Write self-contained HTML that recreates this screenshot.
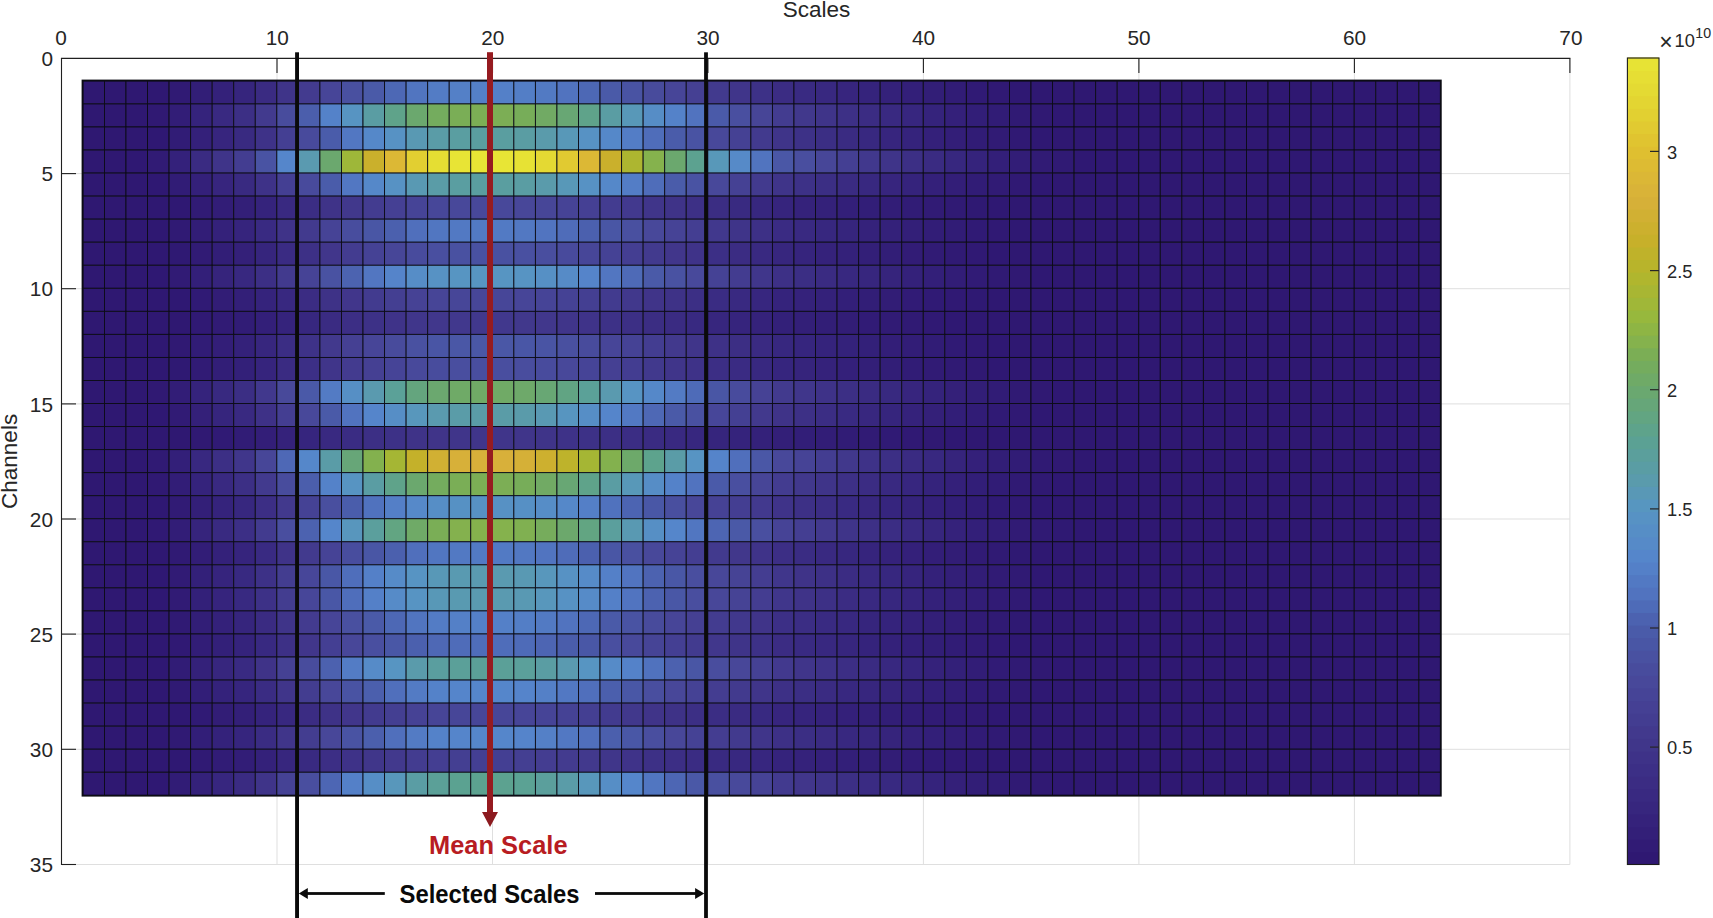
<!DOCTYPE html><html><head><meta charset="utf-8"><title>Scales vs Channels</title>
<style>html,body{margin:0;padding:0;background:#fff}svg{display:block}text{font-family:"Liberation Sans",Arial,Helvetica,sans-serif;fill:#262626}</style></head><body>
<svg width="1713" height="918" viewBox="0 0 1713 918">
<rect width="1713" height="918" fill="#fff"/>
<g stroke="#dfdfdf" stroke-width="1" fill="none">
<line x1="277.0" y1="58.4" x2="277.0" y2="864.5"/>
<line x1="492.5" y1="58.4" x2="492.5" y2="864.5"/>
<line x1="707.9" y1="58.4" x2="707.9" y2="864.5"/>
<line x1="923.4" y1="58.4" x2="923.4" y2="864.5"/>
<line x1="1138.9" y1="58.4" x2="1138.9" y2="864.5"/>
<line x1="1354.4" y1="58.4" x2="1354.4" y2="864.5"/>
<line x1="1569.9" y1="58.4" x2="1569.9" y2="864.5"/>
<line x1="61.5" y1="173.6" x2="1569.9" y2="173.6"/>
<line x1="61.5" y1="288.7" x2="1569.9" y2="288.7"/>
<line x1="61.5" y1="403.9" x2="1569.9" y2="403.9"/>
<line x1="61.5" y1="519.0" x2="1569.9" y2="519.0"/>
<line x1="61.5" y1="634.1" x2="1569.9" y2="634.1"/>
<line x1="61.5" y1="749.3" x2="1569.9" y2="749.3"/>
<line x1="61.5" y1="864.5" x2="1569.9" y2="864.5"/>
</g>
<g stroke="#0c0c16" stroke-width="0.9">
<rect x="82.90" y="80.90" width="21.55" height="23.05" fill="#2f1872"/>
<rect x="104.45" y="80.90" width="21.55" height="23.05" fill="#2f1872"/>
<rect x="125.99" y="80.90" width="21.55" height="23.05" fill="#2f1872"/>
<rect x="147.54" y="80.90" width="21.55" height="23.05" fill="#2f1872"/>
<rect x="169.09" y="80.90" width="21.55" height="23.05" fill="#301a74"/>
<rect x="190.64" y="80.90" width="21.55" height="23.05" fill="#321e77"/>
<rect x="212.19" y="80.90" width="21.55" height="23.05" fill="#34217a"/>
<rect x="233.73" y="80.90" width="21.55" height="23.05" fill="#36257d"/>
<rect x="255.28" y="80.90" width="21.55" height="23.05" fill="#3a2b82"/>
<rect x="276.83" y="80.90" width="21.55" height="23.05" fill="#3f3489"/>
<rect x="298.38" y="80.90" width="21.55" height="23.05" fill="#433b8f"/>
<rect x="319.93" y="80.90" width="21.55" height="23.05" fill="#474598"/>
<rect x="341.47" y="80.90" width="21.55" height="23.05" fill="#4950a0"/>
<rect x="363.02" y="80.90" width="21.55" height="23.05" fill="#4a5aa8"/>
<rect x="384.57" y="80.90" width="21.55" height="23.05" fill="#4d68b5"/>
<rect x="406.12" y="80.90" width="21.55" height="23.05" fill="#5175c0"/>
<rect x="427.67" y="80.90" width="21.55" height="23.05" fill="#537cc5"/>
<rect x="449.21" y="80.90" width="21.55" height="23.05" fill="#5480c7"/>
<rect x="470.76" y="80.90" width="21.55" height="23.05" fill="#5480c8"/>
<rect x="492.31" y="80.90" width="21.55" height="23.05" fill="#5480c8"/>
<rect x="513.86" y="80.90" width="21.55" height="23.05" fill="#537ec6"/>
<rect x="535.41" y="80.90" width="21.55" height="23.05" fill="#527ac3"/>
<rect x="556.95" y="80.90" width="21.55" height="23.05" fill="#5173bf"/>
<rect x="578.50" y="80.90" width="21.55" height="23.05" fill="#4d68b5"/>
<rect x="600.05" y="80.90" width="21.55" height="23.05" fill="#4a5aa8"/>
<rect x="621.60" y="80.90" width="21.55" height="23.05" fill="#4953a3"/>
<rect x="643.15" y="80.90" width="21.55" height="23.05" fill="#484b9c"/>
<rect x="664.69" y="80.90" width="21.55" height="23.05" fill="#474598"/>
<rect x="686.24" y="80.90" width="21.55" height="23.05" fill="#454093"/>
<rect x="707.79" y="80.90" width="21.55" height="23.05" fill="#423a8e"/>
<rect x="729.34" y="80.90" width="21.55" height="23.05" fill="#40358a"/>
<rect x="750.89" y="80.90" width="21.55" height="23.05" fill="#3d3187"/>
<rect x="772.43" y="80.90" width="21.55" height="23.05" fill="#3b2c83"/>
<rect x="793.98" y="80.90" width="21.55" height="23.05" fill="#392a82"/>
<rect x="815.53" y="80.90" width="21.55" height="23.05" fill="#382880"/>
<rect x="837.08" y="80.90" width="21.55" height="23.05" fill="#37257e"/>
<rect x="858.63" y="80.90" width="21.55" height="23.05" fill="#35237c"/>
<rect x="880.17" y="80.90" width="21.55" height="23.05" fill="#34217a"/>
<rect x="901.72" y="80.90" width="21.55" height="23.05" fill="#331f79"/>
<rect x="923.27" y="80.90" width="21.55" height="23.05" fill="#321e77"/>
<rect x="944.82" y="80.90" width="21.55" height="23.05" fill="#311c76"/>
<rect x="966.37" y="80.90" width="21.55" height="23.05" fill="#301a75"/>
<rect x="987.91" y="80.90" width="21.55" height="23.05" fill="#301974"/>
<rect x="1009.46" y="80.90" width="21.55" height="23.05" fill="#2f1873"/>
<rect x="1031.01" y="80.90" width="21.55" height="23.05" fill="#2f1872"/>
<rect x="1052.56" y="80.90" width="21.55" height="23.05" fill="#2f1872"/>
<rect x="1074.11" y="80.90" width="21.55" height="23.05" fill="#2f1872"/>
<rect x="1095.65" y="80.90" width="21.55" height="23.05" fill="#2f1872"/>
<rect x="1117.20" y="80.90" width="21.55" height="23.05" fill="#2f1872"/>
<rect x="1138.75" y="80.90" width="21.55" height="23.05" fill="#2f1872"/>
<rect x="1160.30" y="80.90" width="21.55" height="23.05" fill="#2f1872"/>
<rect x="1181.85" y="80.90" width="21.55" height="23.05" fill="#2f1872"/>
<rect x="1203.39" y="80.90" width="21.55" height="23.05" fill="#2f1872"/>
<rect x="1224.94" y="80.90" width="21.55" height="23.05" fill="#2f1872"/>
<rect x="1246.49" y="80.90" width="21.55" height="23.05" fill="#2f1872"/>
<rect x="1268.04" y="80.90" width="21.55" height="23.05" fill="#2f1872"/>
<rect x="1289.59" y="80.90" width="21.55" height="23.05" fill="#2f1872"/>
<rect x="1311.13" y="80.90" width="21.55" height="23.05" fill="#2f1872"/>
<rect x="1332.68" y="80.90" width="21.55" height="23.05" fill="#2f1872"/>
<rect x="1354.23" y="80.90" width="21.55" height="23.05" fill="#2f1872"/>
<rect x="1375.78" y="80.90" width="21.55" height="23.05" fill="#2f1872"/>
<rect x="1397.33" y="80.90" width="21.55" height="23.05" fill="#2f1872"/>
<rect x="1418.87" y="80.90" width="21.55" height="23.05" fill="#2f1872"/>
<rect x="82.90" y="103.94" width="21.55" height="23.05" fill="#2f1872"/>
<rect x="104.45" y="103.94" width="21.55" height="23.05" fill="#2f1872"/>
<rect x="125.99" y="103.94" width="21.55" height="23.05" fill="#2f1872"/>
<rect x="147.54" y="103.94" width="21.55" height="23.05" fill="#301973"/>
<rect x="169.09" y="103.94" width="21.55" height="23.05" fill="#321d77"/>
<rect x="190.64" y="103.94" width="21.55" height="23.05" fill="#35237c"/>
<rect x="212.19" y="103.94" width="21.55" height="23.05" fill="#392981"/>
<rect x="233.73" y="103.94" width="21.55" height="23.05" fill="#3c2f85"/>
<rect x="255.28" y="103.94" width="21.55" height="23.05" fill="#423a8e"/>
<rect x="276.83" y="103.94" width="21.55" height="23.05" fill="#484c9d"/>
<rect x="298.38" y="103.94" width="21.55" height="23.05" fill="#4b5eac"/>
<rect x="319.93" y="103.94" width="21.55" height="23.05" fill="#5482c9"/>
<rect x="341.47" y="103.94" width="21.55" height="23.05" fill="#5794c2"/>
<rect x="363.02" y="103.94" width="21.55" height="23.05" fill="#5a9da3"/>
<rect x="384.57" y="103.94" width="21.55" height="23.05" fill="#5fa38a"/>
<rect x="406.12" y="103.94" width="21.55" height="23.05" fill="#6ba86e"/>
<rect x="427.67" y="103.94" width="21.55" height="23.05" fill="#74ac5e"/>
<rect x="449.21" y="103.94" width="21.55" height="23.05" fill="#7aae56"/>
<rect x="470.76" y="103.94" width="21.55" height="23.05" fill="#7cae55"/>
<rect x="492.31" y="103.94" width="21.55" height="23.05" fill="#7cae55"/>
<rect x="513.86" y="103.94" width="21.55" height="23.05" fill="#77ad59"/>
<rect x="535.41" y="103.94" width="21.55" height="23.05" fill="#71aa64"/>
<rect x="556.95" y="103.94" width="21.55" height="23.05" fill="#68a774"/>
<rect x="578.50" y="103.94" width="21.55" height="23.05" fill="#5fa38a"/>
<rect x="600.05" y="103.94" width="21.55" height="23.05" fill="#5a9da3"/>
<rect x="621.60" y="103.94" width="21.55" height="23.05" fill="#5898b8"/>
<rect x="643.15" y="103.94" width="21.55" height="23.05" fill="#568dc6"/>
<rect x="664.69" y="103.94" width="21.55" height="23.05" fill="#5482c9"/>
<rect x="686.24" y="103.94" width="21.55" height="23.05" fill="#5173bf"/>
<rect x="707.79" y="103.94" width="21.55" height="23.05" fill="#4a5aa9"/>
<rect x="729.34" y="103.94" width="21.55" height="23.05" fill="#494fa0"/>
<rect x="750.89" y="103.94" width="21.55" height="23.05" fill="#474597"/>
<rect x="772.43" y="103.94" width="21.55" height="23.05" fill="#433c90"/>
<rect x="793.98" y="103.94" width="21.55" height="23.05" fill="#41388c"/>
<rect x="815.53" y="103.94" width="21.55" height="23.05" fill="#3f3489"/>
<rect x="837.08" y="103.94" width="21.55" height="23.05" fill="#3d3086"/>
<rect x="858.63" y="103.94" width="21.55" height="23.05" fill="#3b2c83"/>
<rect x="880.17" y="103.94" width="21.55" height="23.05" fill="#392981"/>
<rect x="901.72" y="103.94" width="21.55" height="23.05" fill="#37267f"/>
<rect x="923.27" y="103.94" width="21.55" height="23.05" fill="#35237c"/>
<rect x="944.82" y="103.94" width="21.55" height="23.05" fill="#34207a"/>
<rect x="966.37" y="103.94" width="21.55" height="23.05" fill="#321e78"/>
<rect x="987.91" y="103.94" width="21.55" height="23.05" fill="#311c76"/>
<rect x="1009.46" y="103.94" width="21.55" height="23.05" fill="#301a74"/>
<rect x="1031.01" y="103.94" width="21.55" height="23.05" fill="#301973"/>
<rect x="1052.56" y="103.94" width="21.55" height="23.05" fill="#2f1873"/>
<rect x="1074.11" y="103.94" width="21.55" height="23.05" fill="#2f1872"/>
<rect x="1095.65" y="103.94" width="21.55" height="23.05" fill="#2f1872"/>
<rect x="1117.20" y="103.94" width="21.55" height="23.05" fill="#2f1872"/>
<rect x="1138.75" y="103.94" width="21.55" height="23.05" fill="#2f1872"/>
<rect x="1160.30" y="103.94" width="21.55" height="23.05" fill="#2f1872"/>
<rect x="1181.85" y="103.94" width="21.55" height="23.05" fill="#2f1872"/>
<rect x="1203.39" y="103.94" width="21.55" height="23.05" fill="#2f1872"/>
<rect x="1224.94" y="103.94" width="21.55" height="23.05" fill="#2f1872"/>
<rect x="1246.49" y="103.94" width="21.55" height="23.05" fill="#2f1872"/>
<rect x="1268.04" y="103.94" width="21.55" height="23.05" fill="#2f1872"/>
<rect x="1289.59" y="103.94" width="21.55" height="23.05" fill="#2f1872"/>
<rect x="1311.13" y="103.94" width="21.55" height="23.05" fill="#2f1872"/>
<rect x="1332.68" y="103.94" width="21.55" height="23.05" fill="#2f1872"/>
<rect x="1354.23" y="103.94" width="21.55" height="23.05" fill="#2f1872"/>
<rect x="1375.78" y="103.94" width="21.55" height="23.05" fill="#2f1872"/>
<rect x="1397.33" y="103.94" width="21.55" height="23.05" fill="#2f1872"/>
<rect x="1418.87" y="103.94" width="21.55" height="23.05" fill="#2f1872"/>
<rect x="82.90" y="126.99" width="21.55" height="23.05" fill="#2f1872"/>
<rect x="104.45" y="126.99" width="21.55" height="23.05" fill="#2f1872"/>
<rect x="125.99" y="126.99" width="21.55" height="23.05" fill="#2f1872"/>
<rect x="147.54" y="126.99" width="21.55" height="23.05" fill="#2f1873"/>
<rect x="169.09" y="126.99" width="21.55" height="23.05" fill="#311c76"/>
<rect x="190.64" y="126.99" width="21.55" height="23.05" fill="#34207a"/>
<rect x="212.19" y="126.99" width="21.55" height="23.05" fill="#37257e"/>
<rect x="233.73" y="126.99" width="21.55" height="23.05" fill="#392a81"/>
<rect x="255.28" y="126.99" width="21.55" height="23.05" fill="#3e3288"/>
<rect x="276.83" y="126.99" width="21.55" height="23.05" fill="#443f93"/>
<rect x="298.38" y="126.99" width="21.55" height="23.05" fill="#484a9c"/>
<rect x="319.93" y="126.99" width="21.55" height="23.05" fill="#4a5caa"/>
<rect x="341.47" y="126.99" width="21.55" height="23.05" fill="#5277c2"/>
<rect x="363.02" y="126.99" width="21.55" height="23.05" fill="#5588c9"/>
<rect x="384.57" y="126.99" width="21.55" height="23.05" fill="#5792c4"/>
<rect x="406.12" y="126.99" width="21.55" height="23.05" fill="#5999b3"/>
<rect x="427.67" y="126.99" width="21.55" height="23.05" fill="#5a9ca7"/>
<rect x="449.21" y="126.99" width="21.55" height="23.05" fill="#5a9ea1"/>
<rect x="470.76" y="126.99" width="21.55" height="23.05" fill="#5a9ea0"/>
<rect x="492.31" y="126.99" width="21.55" height="23.05" fill="#5a9ea0"/>
<rect x="513.86" y="126.99" width="21.55" height="23.05" fill="#5a9da3"/>
<rect x="535.41" y="126.99" width="21.55" height="23.05" fill="#5a9bab"/>
<rect x="556.95" y="126.99" width="21.55" height="23.05" fill="#5898b8"/>
<rect x="578.50" y="126.99" width="21.55" height="23.05" fill="#5792c4"/>
<rect x="600.05" y="126.99" width="21.55" height="23.05" fill="#5588c9"/>
<rect x="621.60" y="126.99" width="21.55" height="23.05" fill="#537dc6"/>
<rect x="643.15" y="126.99" width="21.55" height="23.05" fill="#4f6dba"/>
<rect x="664.69" y="126.99" width="21.55" height="23.05" fill="#4a5caa"/>
<rect x="686.24" y="126.99" width="21.55" height="23.05" fill="#4953a3"/>
<rect x="707.79" y="126.99" width="21.55" height="23.05" fill="#48489a"/>
<rect x="729.34" y="126.99" width="21.55" height="23.05" fill="#454194"/>
<rect x="750.89" y="126.99" width="21.55" height="23.05" fill="#423a8e"/>
<rect x="772.43" y="126.99" width="21.55" height="23.05" fill="#3f3489"/>
<rect x="793.98" y="126.99" width="21.55" height="23.05" fill="#3d3187"/>
<rect x="815.53" y="126.99" width="21.55" height="23.05" fill="#3b2e84"/>
<rect x="837.08" y="126.99" width="21.55" height="23.05" fill="#3a2b82"/>
<rect x="858.63" y="126.99" width="21.55" height="23.05" fill="#382880"/>
<rect x="880.17" y="126.99" width="21.55" height="23.05" fill="#37257e"/>
<rect x="901.72" y="126.99" width="21.55" height="23.05" fill="#35237c"/>
<rect x="923.27" y="126.99" width="21.55" height="23.05" fill="#34207a"/>
<rect x="944.82" y="126.99" width="21.55" height="23.05" fill="#331e78"/>
<rect x="966.37" y="126.99" width="21.55" height="23.05" fill="#311c76"/>
<rect x="987.91" y="126.99" width="21.55" height="23.05" fill="#311b75"/>
<rect x="1009.46" y="126.99" width="21.55" height="23.05" fill="#301974"/>
<rect x="1031.01" y="126.99" width="21.55" height="23.05" fill="#2f1873"/>
<rect x="1052.56" y="126.99" width="21.55" height="23.05" fill="#2f1872"/>
<rect x="1074.11" y="126.99" width="21.55" height="23.05" fill="#2f1872"/>
<rect x="1095.65" y="126.99" width="21.55" height="23.05" fill="#2f1872"/>
<rect x="1117.20" y="126.99" width="21.55" height="23.05" fill="#2f1872"/>
<rect x="1138.75" y="126.99" width="21.55" height="23.05" fill="#2f1872"/>
<rect x="1160.30" y="126.99" width="21.55" height="23.05" fill="#2f1872"/>
<rect x="1181.85" y="126.99" width="21.55" height="23.05" fill="#2f1872"/>
<rect x="1203.39" y="126.99" width="21.55" height="23.05" fill="#2f1872"/>
<rect x="1224.94" y="126.99" width="21.55" height="23.05" fill="#2f1872"/>
<rect x="1246.49" y="126.99" width="21.55" height="23.05" fill="#2f1872"/>
<rect x="1268.04" y="126.99" width="21.55" height="23.05" fill="#2f1872"/>
<rect x="1289.59" y="126.99" width="21.55" height="23.05" fill="#2f1872"/>
<rect x="1311.13" y="126.99" width="21.55" height="23.05" fill="#2f1872"/>
<rect x="1332.68" y="126.99" width="21.55" height="23.05" fill="#2f1872"/>
<rect x="1354.23" y="126.99" width="21.55" height="23.05" fill="#2f1872"/>
<rect x="1375.78" y="126.99" width="21.55" height="23.05" fill="#2f1872"/>
<rect x="1397.33" y="126.99" width="21.55" height="23.05" fill="#2f1872"/>
<rect x="1418.87" y="126.99" width="21.55" height="23.05" fill="#2f1872"/>
<rect x="82.90" y="150.03" width="21.55" height="23.05" fill="#2f1872"/>
<rect x="104.45" y="150.03" width="21.55" height="23.05" fill="#2f1872"/>
<rect x="125.99" y="150.03" width="21.55" height="23.05" fill="#2f1873"/>
<rect x="147.54" y="150.03" width="21.55" height="23.05" fill="#311b75"/>
<rect x="169.09" y="150.03" width="21.55" height="23.05" fill="#34217b"/>
<rect x="190.64" y="150.03" width="21.55" height="23.05" fill="#3a2b82"/>
<rect x="212.19" y="150.03" width="21.55" height="23.05" fill="#3f3489"/>
<rect x="233.73" y="150.03" width="21.55" height="23.05" fill="#433d91"/>
<rect x="255.28" y="150.03" width="21.55" height="23.05" fill="#4953a3"/>
<rect x="276.83" y="150.03" width="21.55" height="23.05" fill="#5586cb"/>
<rect x="298.38" y="150.03" width="21.55" height="23.05" fill="#5a9ab0"/>
<rect x="319.93" y="150.03" width="21.55" height="23.05" fill="#6ba86e"/>
<rect x="341.47" y="150.03" width="21.55" height="23.05" fill="#9eb739"/>
<rect x="363.02" y="150.03" width="21.55" height="23.05" fill="#cab02c"/>
<rect x="384.57" y="150.03" width="21.55" height="23.05" fill="#dcb835"/>
<rect x="406.12" y="150.03" width="21.55" height="23.05" fill="#e2cf31"/>
<rect x="427.67" y="150.03" width="21.55" height="23.05" fill="#e5de33"/>
<rect x="449.21" y="150.03" width="21.55" height="23.05" fill="#e8e435"/>
<rect x="470.76" y="150.03" width="21.55" height="23.05" fill="#e8e535"/>
<rect x="492.31" y="150.03" width="21.55" height="23.05" fill="#e8e535"/>
<rect x="513.86" y="150.03" width="21.55" height="23.05" fill="#e7e234"/>
<rect x="535.41" y="150.03" width="21.55" height="23.05" fill="#e4d933"/>
<rect x="556.95" y="150.03" width="21.55" height="23.05" fill="#e1ca31"/>
<rect x="578.50" y="150.03" width="21.55" height="23.05" fill="#dcb835"/>
<rect x="600.05" y="150.03" width="21.55" height="23.05" fill="#cab02c"/>
<rect x="621.60" y="150.03" width="21.55" height="23.05" fill="#adb630"/>
<rect x="643.15" y="150.03" width="21.55" height="23.05" fill="#85b24d"/>
<rect x="664.69" y="150.03" width="21.55" height="23.05" fill="#6ba86e"/>
<rect x="686.24" y="150.03" width="21.55" height="23.05" fill="#5ca290"/>
<rect x="707.79" y="150.03" width="21.55" height="23.05" fill="#5898b9"/>
<rect x="729.34" y="150.03" width="21.55" height="23.05" fill="#568ac8"/>
<rect x="750.89" y="150.03" width="21.55" height="23.05" fill="#5174bf"/>
<rect x="772.43" y="150.03" width="21.55" height="23.05" fill="#4a57a6"/>
<rect x="793.98" y="150.03" width="21.55" height="23.05" fill="#494e9f"/>
<rect x="815.53" y="150.03" width="21.55" height="23.05" fill="#474698"/>
<rect x="837.08" y="150.03" width="21.55" height="23.05" fill="#443f93"/>
<rect x="858.63" y="150.03" width="21.55" height="23.05" fill="#41388d"/>
<rect x="880.17" y="150.03" width="21.55" height="23.05" fill="#3f3489"/>
<rect x="901.72" y="150.03" width="21.55" height="23.05" fill="#3c2f85"/>
<rect x="923.27" y="150.03" width="21.55" height="23.05" fill="#3a2b82"/>
<rect x="944.82" y="150.03" width="21.55" height="23.05" fill="#37277f"/>
<rect x="966.37" y="150.03" width="21.55" height="23.05" fill="#35237c"/>
<rect x="987.91" y="150.03" width="21.55" height="23.05" fill="#331f79"/>
<rect x="1009.46" y="150.03" width="21.55" height="23.05" fill="#321d77"/>
<rect x="1031.01" y="150.03" width="21.55" height="23.05" fill="#311b75"/>
<rect x="1052.56" y="150.03" width="21.55" height="23.05" fill="#301a74"/>
<rect x="1074.11" y="150.03" width="21.55" height="23.05" fill="#2f1873"/>
<rect x="1095.65" y="150.03" width="21.55" height="23.05" fill="#2f1873"/>
<rect x="1117.20" y="150.03" width="21.55" height="23.05" fill="#2f1873"/>
<rect x="1138.75" y="150.03" width="21.55" height="23.05" fill="#2f1873"/>
<rect x="1160.30" y="150.03" width="21.55" height="23.05" fill="#2f1873"/>
<rect x="1181.85" y="150.03" width="21.55" height="23.05" fill="#2f1873"/>
<rect x="1203.39" y="150.03" width="21.55" height="23.05" fill="#2f1873"/>
<rect x="1224.94" y="150.03" width="21.55" height="23.05" fill="#2f1873"/>
<rect x="1246.49" y="150.03" width="21.55" height="23.05" fill="#2f1873"/>
<rect x="1268.04" y="150.03" width="21.55" height="23.05" fill="#2f1873"/>
<rect x="1289.59" y="150.03" width="21.55" height="23.05" fill="#2f1873"/>
<rect x="1311.13" y="150.03" width="21.55" height="23.05" fill="#2f1873"/>
<rect x="1332.68" y="150.03" width="21.55" height="23.05" fill="#2f1873"/>
<rect x="1354.23" y="150.03" width="21.55" height="23.05" fill="#2f1873"/>
<rect x="1375.78" y="150.03" width="21.55" height="23.05" fill="#2f1873"/>
<rect x="1397.33" y="150.03" width="21.55" height="23.05" fill="#2f1873"/>
<rect x="1418.87" y="150.03" width="21.55" height="23.05" fill="#2f1873"/>
<rect x="82.90" y="173.08" width="21.55" height="23.05" fill="#2f1872"/>
<rect x="104.45" y="173.08" width="21.55" height="23.05" fill="#2f1872"/>
<rect x="125.99" y="173.08" width="21.55" height="23.05" fill="#2f1872"/>
<rect x="147.54" y="173.08" width="21.55" height="23.05" fill="#2f1873"/>
<rect x="169.09" y="173.08" width="21.55" height="23.05" fill="#311c76"/>
<rect x="190.64" y="173.08" width="21.55" height="23.05" fill="#34207a"/>
<rect x="212.19" y="173.08" width="21.55" height="23.05" fill="#37257e"/>
<rect x="233.73" y="173.08" width="21.55" height="23.05" fill="#392a81"/>
<rect x="255.28" y="173.08" width="21.55" height="23.05" fill="#3e3288"/>
<rect x="276.83" y="173.08" width="21.55" height="23.05" fill="#443f93"/>
<rect x="298.38" y="173.08" width="21.55" height="23.05" fill="#484a9c"/>
<rect x="319.93" y="173.08" width="21.55" height="23.05" fill="#4a5caa"/>
<rect x="341.47" y="173.08" width="21.55" height="23.05" fill="#5277c2"/>
<rect x="363.02" y="173.08" width="21.55" height="23.05" fill="#5588c9"/>
<rect x="384.57" y="173.08" width="21.55" height="23.05" fill="#5792c4"/>
<rect x="406.12" y="173.08" width="21.55" height="23.05" fill="#5999b3"/>
<rect x="427.67" y="173.08" width="21.55" height="23.05" fill="#5a9ca7"/>
<rect x="449.21" y="173.08" width="21.55" height="23.05" fill="#5a9ea1"/>
<rect x="470.76" y="173.08" width="21.55" height="23.05" fill="#5a9ea0"/>
<rect x="492.31" y="173.08" width="21.55" height="23.05" fill="#5a9ea0"/>
<rect x="513.86" y="173.08" width="21.55" height="23.05" fill="#5a9da3"/>
<rect x="535.41" y="173.08" width="21.55" height="23.05" fill="#5a9bab"/>
<rect x="556.95" y="173.08" width="21.55" height="23.05" fill="#5898b8"/>
<rect x="578.50" y="173.08" width="21.55" height="23.05" fill="#5792c4"/>
<rect x="600.05" y="173.08" width="21.55" height="23.05" fill="#5588c9"/>
<rect x="621.60" y="173.08" width="21.55" height="23.05" fill="#537dc6"/>
<rect x="643.15" y="173.08" width="21.55" height="23.05" fill="#4f6dba"/>
<rect x="664.69" y="173.08" width="21.55" height="23.05" fill="#4a5caa"/>
<rect x="686.24" y="173.08" width="21.55" height="23.05" fill="#4953a3"/>
<rect x="707.79" y="173.08" width="21.55" height="23.05" fill="#48489a"/>
<rect x="729.34" y="173.08" width="21.55" height="23.05" fill="#454194"/>
<rect x="750.89" y="173.08" width="21.55" height="23.05" fill="#423a8e"/>
<rect x="772.43" y="173.08" width="21.55" height="23.05" fill="#3f3489"/>
<rect x="793.98" y="173.08" width="21.55" height="23.05" fill="#3d3187"/>
<rect x="815.53" y="173.08" width="21.55" height="23.05" fill="#3b2e84"/>
<rect x="837.08" y="173.08" width="21.55" height="23.05" fill="#3a2b82"/>
<rect x="858.63" y="173.08" width="21.55" height="23.05" fill="#382880"/>
<rect x="880.17" y="173.08" width="21.55" height="23.05" fill="#37257e"/>
<rect x="901.72" y="173.08" width="21.55" height="23.05" fill="#35237c"/>
<rect x="923.27" y="173.08" width="21.55" height="23.05" fill="#34207a"/>
<rect x="944.82" y="173.08" width="21.55" height="23.05" fill="#331e78"/>
<rect x="966.37" y="173.08" width="21.55" height="23.05" fill="#311c76"/>
<rect x="987.91" y="173.08" width="21.55" height="23.05" fill="#311b75"/>
<rect x="1009.46" y="173.08" width="21.55" height="23.05" fill="#301974"/>
<rect x="1031.01" y="173.08" width="21.55" height="23.05" fill="#2f1873"/>
<rect x="1052.56" y="173.08" width="21.55" height="23.05" fill="#2f1872"/>
<rect x="1074.11" y="173.08" width="21.55" height="23.05" fill="#2f1872"/>
<rect x="1095.65" y="173.08" width="21.55" height="23.05" fill="#2f1872"/>
<rect x="1117.20" y="173.08" width="21.55" height="23.05" fill="#2f1872"/>
<rect x="1138.75" y="173.08" width="21.55" height="23.05" fill="#2f1872"/>
<rect x="1160.30" y="173.08" width="21.55" height="23.05" fill="#2f1872"/>
<rect x="1181.85" y="173.08" width="21.55" height="23.05" fill="#2f1872"/>
<rect x="1203.39" y="173.08" width="21.55" height="23.05" fill="#2f1872"/>
<rect x="1224.94" y="173.08" width="21.55" height="23.05" fill="#2f1872"/>
<rect x="1246.49" y="173.08" width="21.55" height="23.05" fill="#2f1872"/>
<rect x="1268.04" y="173.08" width="21.55" height="23.05" fill="#2f1872"/>
<rect x="1289.59" y="173.08" width="21.55" height="23.05" fill="#2f1872"/>
<rect x="1311.13" y="173.08" width="21.55" height="23.05" fill="#2f1872"/>
<rect x="1332.68" y="173.08" width="21.55" height="23.05" fill="#2f1872"/>
<rect x="1354.23" y="173.08" width="21.55" height="23.05" fill="#2f1872"/>
<rect x="1375.78" y="173.08" width="21.55" height="23.05" fill="#2f1872"/>
<rect x="1397.33" y="173.08" width="21.55" height="23.05" fill="#2f1872"/>
<rect x="1418.87" y="173.08" width="21.55" height="23.05" fill="#2f1872"/>
<rect x="82.90" y="196.12" width="21.55" height="23.05" fill="#2f1872"/>
<rect x="104.45" y="196.12" width="21.55" height="23.05" fill="#2f1872"/>
<rect x="125.99" y="196.12" width="21.55" height="23.05" fill="#2f1872"/>
<rect x="147.54" y="196.12" width="21.55" height="23.05" fill="#2f1872"/>
<rect x="169.09" y="196.12" width="21.55" height="23.05" fill="#2f1873"/>
<rect x="190.64" y="196.12" width="21.55" height="23.05" fill="#311b75"/>
<rect x="212.19" y="196.12" width="21.55" height="23.05" fill="#321d77"/>
<rect x="233.73" y="196.12" width="21.55" height="23.05" fill="#331f78"/>
<rect x="255.28" y="196.12" width="21.55" height="23.05" fill="#35237c"/>
<rect x="276.83" y="196.12" width="21.55" height="23.05" fill="#392981"/>
<rect x="298.38" y="196.12" width="21.55" height="23.05" fill="#3b2d84"/>
<rect x="319.93" y="196.12" width="21.55" height="23.05" fill="#3f3388"/>
<rect x="341.47" y="196.12" width="21.55" height="23.05" fill="#41388c"/>
<rect x="363.02" y="196.12" width="21.55" height="23.05" fill="#433c90"/>
<rect x="384.57" y="196.12" width="21.55" height="23.05" fill="#454094"/>
<rect x="406.12" y="196.12" width="21.55" height="23.05" fill="#464497"/>
<rect x="427.67" y="196.12" width="21.55" height="23.05" fill="#474799"/>
<rect x="449.21" y="196.12" width="21.55" height="23.05" fill="#48489a"/>
<rect x="470.76" y="196.12" width="21.55" height="23.05" fill="#48489a"/>
<rect x="492.31" y="196.12" width="21.55" height="23.05" fill="#48489a"/>
<rect x="513.86" y="196.12" width="21.55" height="23.05" fill="#484799"/>
<rect x="535.41" y="196.12" width="21.55" height="23.05" fill="#474698"/>
<rect x="556.95" y="196.12" width="21.55" height="23.05" fill="#464396"/>
<rect x="578.50" y="196.12" width="21.55" height="23.05" fill="#454094"/>
<rect x="600.05" y="196.12" width="21.55" height="23.05" fill="#433c90"/>
<rect x="621.60" y="196.12" width="21.55" height="23.05" fill="#42398e"/>
<rect x="643.15" y="196.12" width="21.55" height="23.05" fill="#40358a"/>
<rect x="664.69" y="196.12" width="21.55" height="23.05" fill="#3f3388"/>
<rect x="686.24" y="196.12" width="21.55" height="23.05" fill="#3d3086"/>
<rect x="707.79" y="196.12" width="21.55" height="23.05" fill="#3b2d83"/>
<rect x="729.34" y="196.12" width="21.55" height="23.05" fill="#392a81"/>
<rect x="750.89" y="196.12" width="21.55" height="23.05" fill="#37277f"/>
<rect x="772.43" y="196.12" width="21.55" height="23.05" fill="#36247d"/>
<rect x="793.98" y="196.12" width="21.55" height="23.05" fill="#35227b"/>
<rect x="815.53" y="196.12" width="21.55" height="23.05" fill="#34217a"/>
<rect x="837.08" y="196.12" width="21.55" height="23.05" fill="#331f79"/>
<rect x="858.63" y="196.12" width="21.55" height="23.05" fill="#321e78"/>
<rect x="880.17" y="196.12" width="21.55" height="23.05" fill="#321d77"/>
<rect x="901.72" y="196.12" width="21.55" height="23.05" fill="#311c76"/>
<rect x="923.27" y="196.12" width="21.55" height="23.05" fill="#311b75"/>
<rect x="944.82" y="196.12" width="21.55" height="23.05" fill="#301a74"/>
<rect x="966.37" y="196.12" width="21.55" height="23.05" fill="#2f1973"/>
<rect x="987.91" y="196.12" width="21.55" height="23.05" fill="#2f1873"/>
<rect x="1009.46" y="196.12" width="21.55" height="23.05" fill="#2f1872"/>
<rect x="1031.01" y="196.12" width="21.55" height="23.05" fill="#2f1872"/>
<rect x="1052.56" y="196.12" width="21.55" height="23.05" fill="#2f1872"/>
<rect x="1074.11" y="196.12" width="21.55" height="23.05" fill="#2f1872"/>
<rect x="1095.65" y="196.12" width="21.55" height="23.05" fill="#2f1872"/>
<rect x="1117.20" y="196.12" width="21.55" height="23.05" fill="#2f1872"/>
<rect x="1138.75" y="196.12" width="21.55" height="23.05" fill="#2f1872"/>
<rect x="1160.30" y="196.12" width="21.55" height="23.05" fill="#2f1872"/>
<rect x="1181.85" y="196.12" width="21.55" height="23.05" fill="#2f1872"/>
<rect x="1203.39" y="196.12" width="21.55" height="23.05" fill="#2f1872"/>
<rect x="1224.94" y="196.12" width="21.55" height="23.05" fill="#2f1872"/>
<rect x="1246.49" y="196.12" width="21.55" height="23.05" fill="#2f1872"/>
<rect x="1268.04" y="196.12" width="21.55" height="23.05" fill="#2f1872"/>
<rect x="1289.59" y="196.12" width="21.55" height="23.05" fill="#2f1872"/>
<rect x="1311.13" y="196.12" width="21.55" height="23.05" fill="#2f1872"/>
<rect x="1332.68" y="196.12" width="21.55" height="23.05" fill="#2f1872"/>
<rect x="1354.23" y="196.12" width="21.55" height="23.05" fill="#2f1872"/>
<rect x="1375.78" y="196.12" width="21.55" height="23.05" fill="#2f1872"/>
<rect x="1397.33" y="196.12" width="21.55" height="23.05" fill="#2f1872"/>
<rect x="1418.87" y="196.12" width="21.55" height="23.05" fill="#2f1872"/>
<rect x="82.90" y="219.16" width="21.55" height="23.05" fill="#2f1872"/>
<rect x="104.45" y="219.16" width="21.55" height="23.05" fill="#2f1872"/>
<rect x="125.99" y="219.16" width="21.55" height="23.05" fill="#2f1872"/>
<rect x="147.54" y="219.16" width="21.55" height="23.05" fill="#2f1872"/>
<rect x="169.09" y="219.16" width="21.55" height="23.05" fill="#301a74"/>
<rect x="190.64" y="219.16" width="21.55" height="23.05" fill="#321d77"/>
<rect x="212.19" y="219.16" width="21.55" height="23.05" fill="#34217a"/>
<rect x="233.73" y="219.16" width="21.55" height="23.05" fill="#36247d"/>
<rect x="255.28" y="219.16" width="21.55" height="23.05" fill="#392a82"/>
<rect x="276.83" y="219.16" width="21.55" height="23.05" fill="#3f3388"/>
<rect x="298.38" y="219.16" width="21.55" height="23.05" fill="#423a8e"/>
<rect x="319.93" y="219.16" width="21.55" height="23.05" fill="#464396"/>
<rect x="341.47" y="219.16" width="21.55" height="23.05" fill="#484d9e"/>
<rect x="363.02" y="219.16" width="21.55" height="23.05" fill="#4956a5"/>
<rect x="384.57" y="219.16" width="21.55" height="23.05" fill="#4b60ae"/>
<rect x="406.12" y="219.16" width="21.55" height="23.05" fill="#506fbc"/>
<rect x="427.67" y="219.16" width="21.55" height="23.05" fill="#5176c1"/>
<rect x="449.21" y="219.16" width="21.55" height="23.05" fill="#5279c3"/>
<rect x="470.76" y="219.16" width="21.55" height="23.05" fill="#527ac4"/>
<rect x="492.31" y="219.16" width="21.55" height="23.05" fill="#527ac4"/>
<rect x="513.86" y="219.16" width="21.55" height="23.05" fill="#5278c2"/>
<rect x="535.41" y="219.16" width="21.55" height="23.05" fill="#5174c0"/>
<rect x="556.95" y="219.16" width="21.55" height="23.05" fill="#4f6cb9"/>
<rect x="578.50" y="219.16" width="21.55" height="23.05" fill="#4b60ae"/>
<rect x="600.05" y="219.16" width="21.55" height="23.05" fill="#4956a5"/>
<rect x="621.60" y="219.16" width="21.55" height="23.05" fill="#4950a0"/>
<rect x="643.15" y="219.16" width="21.55" height="23.05" fill="#48489a"/>
<rect x="664.69" y="219.16" width="21.55" height="23.05" fill="#464396"/>
<rect x="686.24" y="219.16" width="21.55" height="23.05" fill="#443e92"/>
<rect x="707.79" y="219.16" width="21.55" height="23.05" fill="#41388d"/>
<rect x="729.34" y="219.16" width="21.55" height="23.05" fill="#3f3489"/>
<rect x="750.89" y="219.16" width="21.55" height="23.05" fill="#3d3086"/>
<rect x="772.43" y="219.16" width="21.55" height="23.05" fill="#3a2b83"/>
<rect x="793.98" y="219.16" width="21.55" height="23.05" fill="#392981"/>
<rect x="815.53" y="219.16" width="21.55" height="23.05" fill="#37277f"/>
<rect x="837.08" y="219.16" width="21.55" height="23.05" fill="#36257d"/>
<rect x="858.63" y="219.16" width="21.55" height="23.05" fill="#35227b"/>
<rect x="880.17" y="219.16" width="21.55" height="23.05" fill="#34217a"/>
<rect x="901.72" y="219.16" width="21.55" height="23.05" fill="#331f78"/>
<rect x="923.27" y="219.16" width="21.55" height="23.05" fill="#321d77"/>
<rect x="944.82" y="219.16" width="21.55" height="23.05" fill="#311c76"/>
<rect x="966.37" y="219.16" width="21.55" height="23.05" fill="#301a75"/>
<rect x="987.91" y="219.16" width="21.55" height="23.05" fill="#301974"/>
<rect x="1009.46" y="219.16" width="21.55" height="23.05" fill="#2f1873"/>
<rect x="1031.01" y="219.16" width="21.55" height="23.05" fill="#2f1872"/>
<rect x="1052.56" y="219.16" width="21.55" height="23.05" fill="#2f1872"/>
<rect x="1074.11" y="219.16" width="21.55" height="23.05" fill="#2f1872"/>
<rect x="1095.65" y="219.16" width="21.55" height="23.05" fill="#2f1872"/>
<rect x="1117.20" y="219.16" width="21.55" height="23.05" fill="#2f1872"/>
<rect x="1138.75" y="219.16" width="21.55" height="23.05" fill="#2f1872"/>
<rect x="1160.30" y="219.16" width="21.55" height="23.05" fill="#2f1872"/>
<rect x="1181.85" y="219.16" width="21.55" height="23.05" fill="#2f1872"/>
<rect x="1203.39" y="219.16" width="21.55" height="23.05" fill="#2f1872"/>
<rect x="1224.94" y="219.16" width="21.55" height="23.05" fill="#2f1872"/>
<rect x="1246.49" y="219.16" width="21.55" height="23.05" fill="#2f1872"/>
<rect x="1268.04" y="219.16" width="21.55" height="23.05" fill="#2f1872"/>
<rect x="1289.59" y="219.16" width="21.55" height="23.05" fill="#2f1872"/>
<rect x="1311.13" y="219.16" width="21.55" height="23.05" fill="#2f1872"/>
<rect x="1332.68" y="219.16" width="21.55" height="23.05" fill="#2f1872"/>
<rect x="1354.23" y="219.16" width="21.55" height="23.05" fill="#2f1872"/>
<rect x="1375.78" y="219.16" width="21.55" height="23.05" fill="#2f1872"/>
<rect x="1397.33" y="219.16" width="21.55" height="23.05" fill="#2f1872"/>
<rect x="1418.87" y="219.16" width="21.55" height="23.05" fill="#2f1872"/>
<rect x="82.90" y="242.21" width="21.55" height="23.05" fill="#2f1872"/>
<rect x="104.45" y="242.21" width="21.55" height="23.05" fill="#2f1872"/>
<rect x="125.99" y="242.21" width="21.55" height="23.05" fill="#2f1872"/>
<rect x="147.54" y="242.21" width="21.55" height="23.05" fill="#2f1872"/>
<rect x="169.09" y="242.21" width="21.55" height="23.05" fill="#2f1973"/>
<rect x="190.64" y="242.21" width="21.55" height="23.05" fill="#311b75"/>
<rect x="212.19" y="242.21" width="21.55" height="23.05" fill="#321e77"/>
<rect x="233.73" y="242.21" width="21.55" height="23.05" fill="#342079"/>
<rect x="255.28" y="242.21" width="21.55" height="23.05" fill="#36257d"/>
<rect x="276.83" y="242.21" width="21.55" height="23.05" fill="#3a2b83"/>
<rect x="298.38" y="242.21" width="21.55" height="23.05" fill="#3d3086"/>
<rect x="319.93" y="242.21" width="21.55" height="23.05" fill="#41368b"/>
<rect x="341.47" y="242.21" width="21.55" height="23.05" fill="#433c90"/>
<rect x="363.02" y="242.21" width="21.55" height="23.05" fill="#454295"/>
<rect x="384.57" y="242.21" width="21.55" height="23.05" fill="#474698"/>
<rect x="406.12" y="242.21" width="21.55" height="23.05" fill="#484b9d"/>
<rect x="427.67" y="242.21" width="21.55" height="23.05" fill="#494fa0"/>
<rect x="449.21" y="242.21" width="21.55" height="23.05" fill="#4951a1"/>
<rect x="470.76" y="242.21" width="21.55" height="23.05" fill="#4951a1"/>
<rect x="492.31" y="242.21" width="21.55" height="23.05" fill="#4951a1"/>
<rect x="513.86" y="242.21" width="21.55" height="23.05" fill="#4950a1"/>
<rect x="535.41" y="242.21" width="21.55" height="23.05" fill="#494e9f"/>
<rect x="556.95" y="242.21" width="21.55" height="23.05" fill="#484a9c"/>
<rect x="578.50" y="242.21" width="21.55" height="23.05" fill="#474698"/>
<rect x="600.05" y="242.21" width="21.55" height="23.05" fill="#454295"/>
<rect x="621.60" y="242.21" width="21.55" height="23.05" fill="#443e92"/>
<rect x="643.15" y="242.21" width="21.55" height="23.05" fill="#423a8e"/>
<rect x="664.69" y="242.21" width="21.55" height="23.05" fill="#41368b"/>
<rect x="686.24" y="242.21" width="21.55" height="23.05" fill="#3f3389"/>
<rect x="707.79" y="242.21" width="21.55" height="23.05" fill="#3c2f86"/>
<rect x="729.34" y="242.21" width="21.55" height="23.05" fill="#3b2c83"/>
<rect x="750.89" y="242.21" width="21.55" height="23.05" fill="#392981"/>
<rect x="772.43" y="242.21" width="21.55" height="23.05" fill="#37267e"/>
<rect x="793.98" y="242.21" width="21.55" height="23.05" fill="#36247d"/>
<rect x="815.53" y="242.21" width="21.55" height="23.05" fill="#35227b"/>
<rect x="837.08" y="242.21" width="21.55" height="23.05" fill="#34217a"/>
<rect x="858.63" y="242.21" width="21.55" height="23.05" fill="#331f78"/>
<rect x="880.17" y="242.21" width="21.55" height="23.05" fill="#321e77"/>
<rect x="901.72" y="242.21" width="21.55" height="23.05" fill="#321c76"/>
<rect x="923.27" y="242.21" width="21.55" height="23.05" fill="#311b75"/>
<rect x="944.82" y="242.21" width="21.55" height="23.05" fill="#301a74"/>
<rect x="966.37" y="242.21" width="21.55" height="23.05" fill="#301974"/>
<rect x="987.91" y="242.21" width="21.55" height="23.05" fill="#2f1873"/>
<rect x="1009.46" y="242.21" width="21.55" height="23.05" fill="#2f1872"/>
<rect x="1031.01" y="242.21" width="21.55" height="23.05" fill="#2f1872"/>
<rect x="1052.56" y="242.21" width="21.55" height="23.05" fill="#2f1872"/>
<rect x="1074.11" y="242.21" width="21.55" height="23.05" fill="#2f1872"/>
<rect x="1095.65" y="242.21" width="21.55" height="23.05" fill="#2f1872"/>
<rect x="1117.20" y="242.21" width="21.55" height="23.05" fill="#2f1872"/>
<rect x="1138.75" y="242.21" width="21.55" height="23.05" fill="#2f1872"/>
<rect x="1160.30" y="242.21" width="21.55" height="23.05" fill="#2f1872"/>
<rect x="1181.85" y="242.21" width="21.55" height="23.05" fill="#2f1872"/>
<rect x="1203.39" y="242.21" width="21.55" height="23.05" fill="#2f1872"/>
<rect x="1224.94" y="242.21" width="21.55" height="23.05" fill="#2f1872"/>
<rect x="1246.49" y="242.21" width="21.55" height="23.05" fill="#2f1872"/>
<rect x="1268.04" y="242.21" width="21.55" height="23.05" fill="#2f1872"/>
<rect x="1289.59" y="242.21" width="21.55" height="23.05" fill="#2f1872"/>
<rect x="1311.13" y="242.21" width="21.55" height="23.05" fill="#2f1872"/>
<rect x="1332.68" y="242.21" width="21.55" height="23.05" fill="#2f1872"/>
<rect x="1354.23" y="242.21" width="21.55" height="23.05" fill="#2f1872"/>
<rect x="1375.78" y="242.21" width="21.55" height="23.05" fill="#2f1872"/>
<rect x="1397.33" y="242.21" width="21.55" height="23.05" fill="#2f1872"/>
<rect x="1418.87" y="242.21" width="21.55" height="23.05" fill="#2f1872"/>
<rect x="82.90" y="265.26" width="21.55" height="23.05" fill="#2f1872"/>
<rect x="104.45" y="265.26" width="21.55" height="23.05" fill="#2f1872"/>
<rect x="125.99" y="265.26" width="21.55" height="23.05" fill="#2f1872"/>
<rect x="147.54" y="265.26" width="21.55" height="23.05" fill="#2f1873"/>
<rect x="169.09" y="265.26" width="21.55" height="23.05" fill="#311b75"/>
<rect x="190.64" y="265.26" width="21.55" height="23.05" fill="#331f79"/>
<rect x="212.19" y="265.26" width="21.55" height="23.05" fill="#36247c"/>
<rect x="233.73" y="265.26" width="21.55" height="23.05" fill="#382880"/>
<rect x="255.28" y="265.26" width="21.55" height="23.05" fill="#3c2f85"/>
<rect x="276.83" y="265.26" width="21.55" height="23.05" fill="#423a8e"/>
<rect x="298.38" y="265.26" width="21.55" height="23.05" fill="#464396"/>
<rect x="319.93" y="265.26" width="21.55" height="23.05" fill="#4952a2"/>
<rect x="341.47" y="265.26" width="21.55" height="23.05" fill="#4c63b0"/>
<rect x="363.02" y="265.26" width="21.55" height="23.05" fill="#5276c1"/>
<rect x="384.57" y="265.26" width="21.55" height="23.05" fill="#5584ca"/>
<rect x="406.12" y="265.26" width="21.55" height="23.05" fill="#568dc7"/>
<rect x="427.67" y="265.26" width="21.55" height="23.05" fill="#5792c4"/>
<rect x="449.21" y="265.26" width="21.55" height="23.05" fill="#5795c2"/>
<rect x="470.76" y="265.26" width="21.55" height="23.05" fill="#5795c2"/>
<rect x="492.31" y="265.26" width="21.55" height="23.05" fill="#5795c2"/>
<rect x="513.86" y="265.26" width="21.55" height="23.05" fill="#5794c3"/>
<rect x="535.41" y="265.26" width="21.55" height="23.05" fill="#5690c5"/>
<rect x="556.95" y="265.26" width="21.55" height="23.05" fill="#568bc7"/>
<rect x="578.50" y="265.26" width="21.55" height="23.05" fill="#5584ca"/>
<rect x="600.05" y="265.26" width="21.55" height="23.05" fill="#5276c1"/>
<rect x="621.60" y="265.26" width="21.55" height="23.05" fill="#4e6ab7"/>
<rect x="643.15" y="265.26" width="21.55" height="23.05" fill="#4a5aa8"/>
<rect x="664.69" y="265.26" width="21.55" height="23.05" fill="#4952a2"/>
<rect x="686.24" y="265.26" width="21.55" height="23.05" fill="#48499b"/>
<rect x="707.79" y="265.26" width="21.55" height="23.05" fill="#454295"/>
<rect x="729.34" y="265.26" width="21.55" height="23.05" fill="#433c90"/>
<rect x="750.89" y="265.26" width="21.55" height="23.05" fill="#40368b"/>
<rect x="772.43" y="265.26" width="21.55" height="23.05" fill="#3d3086"/>
<rect x="793.98" y="265.26" width="21.55" height="23.05" fill="#3b2e84"/>
<rect x="815.53" y="265.26" width="21.55" height="23.05" fill="#3a2b82"/>
<rect x="837.08" y="265.26" width="21.55" height="23.05" fill="#382880"/>
<rect x="858.63" y="265.26" width="21.55" height="23.05" fill="#37267e"/>
<rect x="880.17" y="265.26" width="21.55" height="23.05" fill="#36247c"/>
<rect x="901.72" y="265.26" width="21.55" height="23.05" fill="#34217a"/>
<rect x="923.27" y="265.26" width="21.55" height="23.05" fill="#331f79"/>
<rect x="944.82" y="265.26" width="21.55" height="23.05" fill="#321d77"/>
<rect x="966.37" y="265.26" width="21.55" height="23.05" fill="#311b76"/>
<rect x="987.91" y="265.26" width="21.55" height="23.05" fill="#301a74"/>
<rect x="1009.46" y="265.26" width="21.55" height="23.05" fill="#301973"/>
<rect x="1031.01" y="265.26" width="21.55" height="23.05" fill="#2f1873"/>
<rect x="1052.56" y="265.26" width="21.55" height="23.05" fill="#2f1872"/>
<rect x="1074.11" y="265.26" width="21.55" height="23.05" fill="#2f1872"/>
<rect x="1095.65" y="265.26" width="21.55" height="23.05" fill="#2f1872"/>
<rect x="1117.20" y="265.26" width="21.55" height="23.05" fill="#2f1872"/>
<rect x="1138.75" y="265.26" width="21.55" height="23.05" fill="#2f1872"/>
<rect x="1160.30" y="265.26" width="21.55" height="23.05" fill="#2f1872"/>
<rect x="1181.85" y="265.26" width="21.55" height="23.05" fill="#2f1872"/>
<rect x="1203.39" y="265.26" width="21.55" height="23.05" fill="#2f1872"/>
<rect x="1224.94" y="265.26" width="21.55" height="23.05" fill="#2f1872"/>
<rect x="1246.49" y="265.26" width="21.55" height="23.05" fill="#2f1872"/>
<rect x="1268.04" y="265.26" width="21.55" height="23.05" fill="#2f1872"/>
<rect x="1289.59" y="265.26" width="21.55" height="23.05" fill="#2f1872"/>
<rect x="1311.13" y="265.26" width="21.55" height="23.05" fill="#2f1872"/>
<rect x="1332.68" y="265.26" width="21.55" height="23.05" fill="#2f1872"/>
<rect x="1354.23" y="265.26" width="21.55" height="23.05" fill="#2f1872"/>
<rect x="1375.78" y="265.26" width="21.55" height="23.05" fill="#2f1872"/>
<rect x="1397.33" y="265.26" width="21.55" height="23.05" fill="#2f1872"/>
<rect x="1418.87" y="265.26" width="21.55" height="23.05" fill="#2f1872"/>
<rect x="82.90" y="288.30" width="21.55" height="23.05" fill="#2f1872"/>
<rect x="104.45" y="288.30" width="21.55" height="23.05" fill="#2f1872"/>
<rect x="125.99" y="288.30" width="21.55" height="23.05" fill="#2f1872"/>
<rect x="147.54" y="288.30" width="21.55" height="23.05" fill="#2f1872"/>
<rect x="169.09" y="288.30" width="21.55" height="23.05" fill="#2f1873"/>
<rect x="190.64" y="288.30" width="21.55" height="23.05" fill="#301a75"/>
<rect x="212.19" y="288.30" width="21.55" height="23.05" fill="#321d76"/>
<rect x="233.73" y="288.30" width="21.55" height="23.05" fill="#331f78"/>
<rect x="255.28" y="288.30" width="21.55" height="23.05" fill="#35237c"/>
<rect x="276.83" y="288.30" width="21.55" height="23.05" fill="#382880"/>
<rect x="298.38" y="288.30" width="21.55" height="23.05" fill="#3b2c83"/>
<rect x="319.93" y="288.30" width="21.55" height="23.05" fill="#3e3287"/>
<rect x="341.47" y="288.30" width="21.55" height="23.05" fill="#41368b"/>
<rect x="363.02" y="288.30" width="21.55" height="23.05" fill="#423b8f"/>
<rect x="384.57" y="288.30" width="21.55" height="23.05" fill="#443f92"/>
<rect x="406.12" y="288.30" width="21.55" height="23.05" fill="#464295"/>
<rect x="427.67" y="288.30" width="21.55" height="23.05" fill="#474597"/>
<rect x="449.21" y="288.30" width="21.55" height="23.05" fill="#474698"/>
<rect x="470.76" y="288.30" width="21.55" height="23.05" fill="#474698"/>
<rect x="492.31" y="288.30" width="21.55" height="23.05" fill="#474698"/>
<rect x="513.86" y="288.30" width="21.55" height="23.05" fill="#474598"/>
<rect x="535.41" y="288.30" width="21.55" height="23.05" fill="#464497"/>
<rect x="556.95" y="288.30" width="21.55" height="23.05" fill="#454295"/>
<rect x="578.50" y="288.30" width="21.55" height="23.05" fill="#443f92"/>
<rect x="600.05" y="288.30" width="21.55" height="23.05" fill="#423b8f"/>
<rect x="621.60" y="288.30" width="21.55" height="23.05" fill="#41388c"/>
<rect x="643.15" y="288.30" width="21.55" height="23.05" fill="#403489"/>
<rect x="664.69" y="288.30" width="21.55" height="23.05" fill="#3e3287"/>
<rect x="686.24" y="288.30" width="21.55" height="23.05" fill="#3c2f85"/>
<rect x="707.79" y="288.30" width="21.55" height="23.05" fill="#3a2c83"/>
<rect x="729.34" y="288.30" width="21.55" height="23.05" fill="#392981"/>
<rect x="750.89" y="288.30" width="21.55" height="23.05" fill="#37267f"/>
<rect x="772.43" y="288.30" width="21.55" height="23.05" fill="#35237c"/>
<rect x="793.98" y="288.30" width="21.55" height="23.05" fill="#35227b"/>
<rect x="815.53" y="288.30" width="21.55" height="23.05" fill="#34217a"/>
<rect x="837.08" y="288.30" width="21.55" height="23.05" fill="#331f79"/>
<rect x="858.63" y="288.30" width="21.55" height="23.05" fill="#321e77"/>
<rect x="880.17" y="288.30" width="21.55" height="23.05" fill="#321d76"/>
<rect x="901.72" y="288.30" width="21.55" height="23.05" fill="#311b76"/>
<rect x="923.27" y="288.30" width="21.55" height="23.05" fill="#301a75"/>
<rect x="944.82" y="288.30" width="21.55" height="23.05" fill="#301974"/>
<rect x="966.37" y="288.30" width="21.55" height="23.05" fill="#2f1973"/>
<rect x="987.91" y="288.30" width="21.55" height="23.05" fill="#2f1872"/>
<rect x="1009.46" y="288.30" width="21.55" height="23.05" fill="#2f1872"/>
<rect x="1031.01" y="288.30" width="21.55" height="23.05" fill="#2f1872"/>
<rect x="1052.56" y="288.30" width="21.55" height="23.05" fill="#2f1872"/>
<rect x="1074.11" y="288.30" width="21.55" height="23.05" fill="#2f1872"/>
<rect x="1095.65" y="288.30" width="21.55" height="23.05" fill="#2f1872"/>
<rect x="1117.20" y="288.30" width="21.55" height="23.05" fill="#2f1872"/>
<rect x="1138.75" y="288.30" width="21.55" height="23.05" fill="#2f1872"/>
<rect x="1160.30" y="288.30" width="21.55" height="23.05" fill="#2f1872"/>
<rect x="1181.85" y="288.30" width="21.55" height="23.05" fill="#2f1872"/>
<rect x="1203.39" y="288.30" width="21.55" height="23.05" fill="#2f1872"/>
<rect x="1224.94" y="288.30" width="21.55" height="23.05" fill="#2f1872"/>
<rect x="1246.49" y="288.30" width="21.55" height="23.05" fill="#2f1872"/>
<rect x="1268.04" y="288.30" width="21.55" height="23.05" fill="#2f1872"/>
<rect x="1289.59" y="288.30" width="21.55" height="23.05" fill="#2f1872"/>
<rect x="1311.13" y="288.30" width="21.55" height="23.05" fill="#2f1872"/>
<rect x="1332.68" y="288.30" width="21.55" height="23.05" fill="#2f1872"/>
<rect x="1354.23" y="288.30" width="21.55" height="23.05" fill="#2f1872"/>
<rect x="1375.78" y="288.30" width="21.55" height="23.05" fill="#2f1872"/>
<rect x="1397.33" y="288.30" width="21.55" height="23.05" fill="#2f1872"/>
<rect x="1418.87" y="288.30" width="21.55" height="23.05" fill="#2f1872"/>
<rect x="82.90" y="311.35" width="21.55" height="23.05" fill="#2f1872"/>
<rect x="104.45" y="311.35" width="21.55" height="23.05" fill="#2f1872"/>
<rect x="125.99" y="311.35" width="21.55" height="23.05" fill="#2f1872"/>
<rect x="147.54" y="311.35" width="21.55" height="23.05" fill="#2f1872"/>
<rect x="169.09" y="311.35" width="21.55" height="23.05" fill="#2f1872"/>
<rect x="190.64" y="311.35" width="21.55" height="23.05" fill="#301974"/>
<rect x="212.19" y="311.35" width="21.55" height="23.05" fill="#311b75"/>
<rect x="233.73" y="311.35" width="21.55" height="23.05" fill="#311c76"/>
<rect x="255.28" y="311.35" width="21.55" height="23.05" fill="#331f79"/>
<rect x="276.83" y="311.35" width="21.55" height="23.05" fill="#35237c"/>
<rect x="298.38" y="311.35" width="21.55" height="23.05" fill="#37277f"/>
<rect x="319.93" y="311.35" width="21.55" height="23.05" fill="#3a2b82"/>
<rect x="341.47" y="311.35" width="21.55" height="23.05" fill="#3c2e85"/>
<rect x="363.02" y="311.35" width="21.55" height="23.05" fill="#3d3187"/>
<rect x="384.57" y="311.35" width="21.55" height="23.05" fill="#3f3389"/>
<rect x="406.12" y="311.35" width="21.55" height="23.05" fill="#40368b"/>
<rect x="427.67" y="311.35" width="21.55" height="23.05" fill="#41378c"/>
<rect x="449.21" y="311.35" width="21.55" height="23.05" fill="#41388d"/>
<rect x="470.76" y="311.35" width="21.55" height="23.05" fill="#41388d"/>
<rect x="492.31" y="311.35" width="21.55" height="23.05" fill="#41388d"/>
<rect x="513.86" y="311.35" width="21.55" height="23.05" fill="#41388c"/>
<rect x="535.41" y="311.35" width="21.55" height="23.05" fill="#41378c"/>
<rect x="556.95" y="311.35" width="21.55" height="23.05" fill="#40358a"/>
<rect x="578.50" y="311.35" width="21.55" height="23.05" fill="#3f3389"/>
<rect x="600.05" y="311.35" width="21.55" height="23.05" fill="#3d3187"/>
<rect x="621.60" y="311.35" width="21.55" height="23.05" fill="#3c2f85"/>
<rect x="643.15" y="311.35" width="21.55" height="23.05" fill="#3b2d83"/>
<rect x="664.69" y="311.35" width="21.55" height="23.05" fill="#3a2b82"/>
<rect x="686.24" y="311.35" width="21.55" height="23.05" fill="#382981"/>
<rect x="707.79" y="311.35" width="21.55" height="23.05" fill="#37267e"/>
<rect x="729.34" y="311.35" width="21.55" height="23.05" fill="#36247d"/>
<rect x="750.89" y="311.35" width="21.55" height="23.05" fill="#35227b"/>
<rect x="772.43" y="311.35" width="21.55" height="23.05" fill="#332079"/>
<rect x="793.98" y="311.35" width="21.55" height="23.05" fill="#331f78"/>
<rect x="815.53" y="311.35" width="21.55" height="23.05" fill="#321e77"/>
<rect x="837.08" y="311.35" width="21.55" height="23.05" fill="#321d76"/>
<rect x="858.63" y="311.35" width="21.55" height="23.05" fill="#311b76"/>
<rect x="880.17" y="311.35" width="21.55" height="23.05" fill="#311b75"/>
<rect x="901.72" y="311.35" width="21.55" height="23.05" fill="#301a74"/>
<rect x="923.27" y="311.35" width="21.55" height="23.05" fill="#301974"/>
<rect x="944.82" y="311.35" width="21.55" height="23.05" fill="#2f1873"/>
<rect x="966.37" y="311.35" width="21.55" height="23.05" fill="#2f1872"/>
<rect x="987.91" y="311.35" width="21.55" height="23.05" fill="#2f1872"/>
<rect x="1009.46" y="311.35" width="21.55" height="23.05" fill="#2f1872"/>
<rect x="1031.01" y="311.35" width="21.55" height="23.05" fill="#2f1872"/>
<rect x="1052.56" y="311.35" width="21.55" height="23.05" fill="#2f1872"/>
<rect x="1074.11" y="311.35" width="21.55" height="23.05" fill="#2f1872"/>
<rect x="1095.65" y="311.35" width="21.55" height="23.05" fill="#2f1872"/>
<rect x="1117.20" y="311.35" width="21.55" height="23.05" fill="#2f1872"/>
<rect x="1138.75" y="311.35" width="21.55" height="23.05" fill="#2f1872"/>
<rect x="1160.30" y="311.35" width="21.55" height="23.05" fill="#2f1872"/>
<rect x="1181.85" y="311.35" width="21.55" height="23.05" fill="#2f1872"/>
<rect x="1203.39" y="311.35" width="21.55" height="23.05" fill="#2f1872"/>
<rect x="1224.94" y="311.35" width="21.55" height="23.05" fill="#2f1872"/>
<rect x="1246.49" y="311.35" width="21.55" height="23.05" fill="#2f1872"/>
<rect x="1268.04" y="311.35" width="21.55" height="23.05" fill="#2f1872"/>
<rect x="1289.59" y="311.35" width="21.55" height="23.05" fill="#2f1872"/>
<rect x="1311.13" y="311.35" width="21.55" height="23.05" fill="#2f1872"/>
<rect x="1332.68" y="311.35" width="21.55" height="23.05" fill="#2f1872"/>
<rect x="1354.23" y="311.35" width="21.55" height="23.05" fill="#2f1872"/>
<rect x="1375.78" y="311.35" width="21.55" height="23.05" fill="#2f1872"/>
<rect x="1397.33" y="311.35" width="21.55" height="23.05" fill="#2f1872"/>
<rect x="1418.87" y="311.35" width="21.55" height="23.05" fill="#2f1872"/>
<rect x="82.90" y="334.39" width="21.55" height="23.05" fill="#2f1872"/>
<rect x="104.45" y="334.39" width="21.55" height="23.05" fill="#2f1872"/>
<rect x="125.99" y="334.39" width="21.55" height="23.05" fill="#2f1872"/>
<rect x="147.54" y="334.39" width="21.55" height="23.05" fill="#2f1872"/>
<rect x="169.09" y="334.39" width="21.55" height="23.05" fill="#301973"/>
<rect x="190.64" y="334.39" width="21.55" height="23.05" fill="#311c76"/>
<rect x="212.19" y="334.39" width="21.55" height="23.05" fill="#331e78"/>
<rect x="233.73" y="334.39" width="21.55" height="23.05" fill="#34217a"/>
<rect x="255.28" y="334.39" width="21.55" height="23.05" fill="#37267e"/>
<rect x="276.83" y="334.39" width="21.55" height="23.05" fill="#3b2d84"/>
<rect x="298.38" y="334.39" width="21.55" height="23.05" fill="#3e3288"/>
<rect x="319.93" y="334.39" width="21.55" height="23.05" fill="#42398d"/>
<rect x="341.47" y="334.39" width="21.55" height="23.05" fill="#454093"/>
<rect x="363.02" y="334.39" width="21.55" height="23.05" fill="#474598"/>
<rect x="384.57" y="334.39" width="21.55" height="23.05" fill="#484b9c"/>
<rect x="406.12" y="334.39" width="21.55" height="23.05" fill="#4951a1"/>
<rect x="427.67" y="334.39" width="21.55" height="23.05" fill="#4955a5"/>
<rect x="449.21" y="334.39" width="21.55" height="23.05" fill="#4a57a6"/>
<rect x="470.76" y="334.39" width="21.55" height="23.05" fill="#4a57a6"/>
<rect x="492.31" y="334.39" width="21.55" height="23.05" fill="#4a57a6"/>
<rect x="513.86" y="334.39" width="21.55" height="23.05" fill="#4956a6"/>
<rect x="535.41" y="334.39" width="21.55" height="23.05" fill="#4954a4"/>
<rect x="556.95" y="334.39" width="21.55" height="23.05" fill="#4950a0"/>
<rect x="578.50" y="334.39" width="21.55" height="23.05" fill="#484b9c"/>
<rect x="600.05" y="334.39" width="21.55" height="23.05" fill="#474598"/>
<rect x="621.60" y="334.39" width="21.55" height="23.05" fill="#454295"/>
<rect x="643.15" y="334.39" width="21.55" height="23.05" fill="#433d91"/>
<rect x="664.69" y="334.39" width="21.55" height="23.05" fill="#42398d"/>
<rect x="686.24" y="334.39" width="21.55" height="23.05" fill="#40358a"/>
<rect x="707.79" y="334.39" width="21.55" height="23.05" fill="#3e3187"/>
<rect x="729.34" y="334.39" width="21.55" height="23.05" fill="#3c2e84"/>
<rect x="750.89" y="334.39" width="21.55" height="23.05" fill="#3a2a82"/>
<rect x="772.43" y="334.39" width="21.55" height="23.05" fill="#37277f"/>
<rect x="793.98" y="334.39" width="21.55" height="23.05" fill="#36257e"/>
<rect x="815.53" y="334.39" width="21.55" height="23.05" fill="#35237c"/>
<rect x="837.08" y="334.39" width="21.55" height="23.05" fill="#34227b"/>
<rect x="858.63" y="334.39" width="21.55" height="23.05" fill="#332079"/>
<rect x="880.17" y="334.39" width="21.55" height="23.05" fill="#331e78"/>
<rect x="901.72" y="334.39" width="21.55" height="23.05" fill="#321d77"/>
<rect x="923.27" y="334.39" width="21.55" height="23.05" fill="#311c76"/>
<rect x="944.82" y="334.39" width="21.55" height="23.05" fill="#301a75"/>
<rect x="966.37" y="334.39" width="21.55" height="23.05" fill="#301974"/>
<rect x="987.91" y="334.39" width="21.55" height="23.05" fill="#2f1873"/>
<rect x="1009.46" y="334.39" width="21.55" height="23.05" fill="#2f1872"/>
<rect x="1031.01" y="334.39" width="21.55" height="23.05" fill="#2f1872"/>
<rect x="1052.56" y="334.39" width="21.55" height="23.05" fill="#2f1872"/>
<rect x="1074.11" y="334.39" width="21.55" height="23.05" fill="#2f1872"/>
<rect x="1095.65" y="334.39" width="21.55" height="23.05" fill="#2f1872"/>
<rect x="1117.20" y="334.39" width="21.55" height="23.05" fill="#2f1872"/>
<rect x="1138.75" y="334.39" width="21.55" height="23.05" fill="#2f1872"/>
<rect x="1160.30" y="334.39" width="21.55" height="23.05" fill="#2f1872"/>
<rect x="1181.85" y="334.39" width="21.55" height="23.05" fill="#2f1872"/>
<rect x="1203.39" y="334.39" width="21.55" height="23.05" fill="#2f1872"/>
<rect x="1224.94" y="334.39" width="21.55" height="23.05" fill="#2f1872"/>
<rect x="1246.49" y="334.39" width="21.55" height="23.05" fill="#2f1872"/>
<rect x="1268.04" y="334.39" width="21.55" height="23.05" fill="#2f1872"/>
<rect x="1289.59" y="334.39" width="21.55" height="23.05" fill="#2f1872"/>
<rect x="1311.13" y="334.39" width="21.55" height="23.05" fill="#2f1872"/>
<rect x="1332.68" y="334.39" width="21.55" height="23.05" fill="#2f1872"/>
<rect x="1354.23" y="334.39" width="21.55" height="23.05" fill="#2f1872"/>
<rect x="1375.78" y="334.39" width="21.55" height="23.05" fill="#2f1872"/>
<rect x="1397.33" y="334.39" width="21.55" height="23.05" fill="#2f1872"/>
<rect x="1418.87" y="334.39" width="21.55" height="23.05" fill="#2f1872"/>
<rect x="82.90" y="357.44" width="21.55" height="23.05" fill="#2f1872"/>
<rect x="104.45" y="357.44" width="21.55" height="23.05" fill="#2f1872"/>
<rect x="125.99" y="357.44" width="21.55" height="23.05" fill="#2f1872"/>
<rect x="147.54" y="357.44" width="21.55" height="23.05" fill="#2f1872"/>
<rect x="169.09" y="357.44" width="21.55" height="23.05" fill="#2f1973"/>
<rect x="190.64" y="357.44" width="21.55" height="23.05" fill="#311b75"/>
<rect x="212.19" y="357.44" width="21.55" height="23.05" fill="#321e77"/>
<rect x="233.73" y="357.44" width="21.55" height="23.05" fill="#332079"/>
<rect x="255.28" y="357.44" width="21.55" height="23.05" fill="#36247d"/>
<rect x="276.83" y="357.44" width="21.55" height="23.05" fill="#3a2b82"/>
<rect x="298.38" y="357.44" width="21.55" height="23.05" fill="#3c2f86"/>
<rect x="319.93" y="357.44" width="21.55" height="23.05" fill="#40358a"/>
<rect x="341.47" y="357.44" width="21.55" height="23.05" fill="#433b8f"/>
<rect x="363.02" y="357.44" width="21.55" height="23.05" fill="#454093"/>
<rect x="384.57" y="357.44" width="21.55" height="23.05" fill="#464497"/>
<rect x="406.12" y="357.44" width="21.55" height="23.05" fill="#48499b"/>
<rect x="427.67" y="357.44" width="21.55" height="23.05" fill="#484c9d"/>
<rect x="449.21" y="357.44" width="21.55" height="23.05" fill="#494e9f"/>
<rect x="470.76" y="357.44" width="21.55" height="23.05" fill="#494e9f"/>
<rect x="492.31" y="357.44" width="21.55" height="23.05" fill="#494e9f"/>
<rect x="513.86" y="357.44" width="21.55" height="23.05" fill="#494d9e"/>
<rect x="535.41" y="357.44" width="21.55" height="23.05" fill="#484b9d"/>
<rect x="556.95" y="357.44" width="21.55" height="23.05" fill="#48489a"/>
<rect x="578.50" y="357.44" width="21.55" height="23.05" fill="#464497"/>
<rect x="600.05" y="357.44" width="21.55" height="23.05" fill="#454093"/>
<rect x="621.60" y="357.44" width="21.55" height="23.05" fill="#433d91"/>
<rect x="643.15" y="357.44" width="21.55" height="23.05" fill="#41398d"/>
<rect x="664.69" y="357.44" width="21.55" height="23.05" fill="#40358a"/>
<rect x="686.24" y="357.44" width="21.55" height="23.05" fill="#3e3288"/>
<rect x="707.79" y="357.44" width="21.55" height="23.05" fill="#3c2e85"/>
<rect x="729.34" y="357.44" width="21.55" height="23.05" fill="#3a2b83"/>
<rect x="750.89" y="357.44" width="21.55" height="23.05" fill="#382880"/>
<rect x="772.43" y="357.44" width="21.55" height="23.05" fill="#36257e"/>
<rect x="793.98" y="357.44" width="21.55" height="23.05" fill="#36247c"/>
<rect x="815.53" y="357.44" width="21.55" height="23.05" fill="#35227b"/>
<rect x="837.08" y="357.44" width="21.55" height="23.05" fill="#34207a"/>
<rect x="858.63" y="357.44" width="21.55" height="23.05" fill="#331f78"/>
<rect x="880.17" y="357.44" width="21.55" height="23.05" fill="#321e77"/>
<rect x="901.72" y="357.44" width="21.55" height="23.05" fill="#311c76"/>
<rect x="923.27" y="357.44" width="21.55" height="23.05" fill="#311b75"/>
<rect x="944.82" y="357.44" width="21.55" height="23.05" fill="#301a74"/>
<rect x="966.37" y="357.44" width="21.55" height="23.05" fill="#301973"/>
<rect x="987.91" y="357.44" width="21.55" height="23.05" fill="#2f1873"/>
<rect x="1009.46" y="357.44" width="21.55" height="23.05" fill="#2f1872"/>
<rect x="1031.01" y="357.44" width="21.55" height="23.05" fill="#2f1872"/>
<rect x="1052.56" y="357.44" width="21.55" height="23.05" fill="#2f1872"/>
<rect x="1074.11" y="357.44" width="21.55" height="23.05" fill="#2f1872"/>
<rect x="1095.65" y="357.44" width="21.55" height="23.05" fill="#2f1872"/>
<rect x="1117.20" y="357.44" width="21.55" height="23.05" fill="#2f1872"/>
<rect x="1138.75" y="357.44" width="21.55" height="23.05" fill="#2f1872"/>
<rect x="1160.30" y="357.44" width="21.55" height="23.05" fill="#2f1872"/>
<rect x="1181.85" y="357.44" width="21.55" height="23.05" fill="#2f1872"/>
<rect x="1203.39" y="357.44" width="21.55" height="23.05" fill="#2f1872"/>
<rect x="1224.94" y="357.44" width="21.55" height="23.05" fill="#2f1872"/>
<rect x="1246.49" y="357.44" width="21.55" height="23.05" fill="#2f1872"/>
<rect x="1268.04" y="357.44" width="21.55" height="23.05" fill="#2f1872"/>
<rect x="1289.59" y="357.44" width="21.55" height="23.05" fill="#2f1872"/>
<rect x="1311.13" y="357.44" width="21.55" height="23.05" fill="#2f1872"/>
<rect x="1332.68" y="357.44" width="21.55" height="23.05" fill="#2f1872"/>
<rect x="1354.23" y="357.44" width="21.55" height="23.05" fill="#2f1872"/>
<rect x="1375.78" y="357.44" width="21.55" height="23.05" fill="#2f1872"/>
<rect x="1397.33" y="357.44" width="21.55" height="23.05" fill="#2f1872"/>
<rect x="1418.87" y="357.44" width="21.55" height="23.05" fill="#2f1872"/>
<rect x="82.90" y="380.48" width="21.55" height="23.05" fill="#2f1872"/>
<rect x="104.45" y="380.48" width="21.55" height="23.05" fill="#2f1872"/>
<rect x="125.99" y="380.48" width="21.55" height="23.05" fill="#2f1872"/>
<rect x="147.54" y="380.48" width="21.55" height="23.05" fill="#301973"/>
<rect x="169.09" y="380.48" width="21.55" height="23.05" fill="#321d77"/>
<rect x="190.64" y="380.48" width="21.55" height="23.05" fill="#35237c"/>
<rect x="212.19" y="380.48" width="21.55" height="23.05" fill="#382980"/>
<rect x="233.73" y="380.48" width="21.55" height="23.05" fill="#3b2e84"/>
<rect x="255.28" y="380.48" width="21.55" height="23.05" fill="#41388d"/>
<rect x="276.83" y="380.48" width="21.55" height="23.05" fill="#48499a"/>
<rect x="298.38" y="380.48" width="21.55" height="23.05" fill="#4a59a8"/>
<rect x="319.93" y="380.48" width="21.55" height="23.05" fill="#537bc4"/>
<rect x="341.47" y="380.48" width="21.55" height="23.05" fill="#568fc5"/>
<rect x="363.02" y="380.48" width="21.55" height="23.05" fill="#5a9aaf"/>
<rect x="384.57" y="380.48" width="21.55" height="23.05" fill="#5ba198"/>
<rect x="406.12" y="380.48" width="21.55" height="23.05" fill="#64a57e"/>
<rect x="427.67" y="380.48" width="21.55" height="23.05" fill="#6ba86f"/>
<rect x="449.21" y="380.48" width="21.55" height="23.05" fill="#6faa67"/>
<rect x="470.76" y="380.48" width="21.55" height="23.05" fill="#70aa66"/>
<rect x="492.31" y="380.48" width="21.55" height="23.05" fill="#70aa66"/>
<rect x="513.86" y="380.48" width="21.55" height="23.05" fill="#6ea96a"/>
<rect x="535.41" y="380.48" width="21.55" height="23.05" fill="#68a774"/>
<rect x="556.95" y="380.48" width="21.55" height="23.05" fill="#61a483"/>
<rect x="578.50" y="380.48" width="21.55" height="23.05" fill="#5ba198"/>
<rect x="600.05" y="380.48" width="21.55" height="23.05" fill="#5a9aaf"/>
<rect x="621.60" y="380.48" width="21.55" height="23.05" fill="#5794c3"/>
<rect x="643.15" y="380.48" width="21.55" height="23.05" fill="#5588c9"/>
<rect x="664.69" y="380.48" width="21.55" height="23.05" fill="#537bc4"/>
<rect x="686.24" y="380.48" width="21.55" height="23.05" fill="#4e6bb8"/>
<rect x="707.79" y="380.48" width="21.55" height="23.05" fill="#4956a5"/>
<rect x="729.34" y="380.48" width="21.55" height="23.05" fill="#484b9d"/>
<rect x="750.89" y="380.48" width="21.55" height="23.05" fill="#464295"/>
<rect x="772.43" y="380.48" width="21.55" height="23.05" fill="#423a8e"/>
<rect x="793.98" y="380.48" width="21.55" height="23.05" fill="#40368b"/>
<rect x="815.53" y="380.48" width="21.55" height="23.05" fill="#3e3288"/>
<rect x="837.08" y="380.48" width="21.55" height="23.05" fill="#3c2f85"/>
<rect x="858.63" y="380.48" width="21.55" height="23.05" fill="#3a2b82"/>
<rect x="880.17" y="380.48" width="21.55" height="23.05" fill="#382980"/>
<rect x="901.72" y="380.48" width="21.55" height="23.05" fill="#37257e"/>
<rect x="923.27" y="380.48" width="21.55" height="23.05" fill="#35237c"/>
<rect x="944.82" y="380.48" width="21.55" height="23.05" fill="#342079"/>
<rect x="966.37" y="380.48" width="21.55" height="23.05" fill="#321e77"/>
<rect x="987.91" y="380.48" width="21.55" height="23.05" fill="#311c76"/>
<rect x="1009.46" y="380.48" width="21.55" height="23.05" fill="#301a74"/>
<rect x="1031.01" y="380.48" width="21.55" height="23.05" fill="#301973"/>
<rect x="1052.56" y="380.48" width="21.55" height="23.05" fill="#2f1873"/>
<rect x="1074.11" y="380.48" width="21.55" height="23.05" fill="#2f1872"/>
<rect x="1095.65" y="380.48" width="21.55" height="23.05" fill="#2f1872"/>
<rect x="1117.20" y="380.48" width="21.55" height="23.05" fill="#2f1872"/>
<rect x="1138.75" y="380.48" width="21.55" height="23.05" fill="#2f1872"/>
<rect x="1160.30" y="380.48" width="21.55" height="23.05" fill="#2f1872"/>
<rect x="1181.85" y="380.48" width="21.55" height="23.05" fill="#2f1872"/>
<rect x="1203.39" y="380.48" width="21.55" height="23.05" fill="#2f1872"/>
<rect x="1224.94" y="380.48" width="21.55" height="23.05" fill="#2f1872"/>
<rect x="1246.49" y="380.48" width="21.55" height="23.05" fill="#2f1872"/>
<rect x="1268.04" y="380.48" width="21.55" height="23.05" fill="#2f1872"/>
<rect x="1289.59" y="380.48" width="21.55" height="23.05" fill="#2f1872"/>
<rect x="1311.13" y="380.48" width="21.55" height="23.05" fill="#2f1872"/>
<rect x="1332.68" y="380.48" width="21.55" height="23.05" fill="#2f1872"/>
<rect x="1354.23" y="380.48" width="21.55" height="23.05" fill="#2f1872"/>
<rect x="1375.78" y="380.48" width="21.55" height="23.05" fill="#2f1872"/>
<rect x="1397.33" y="380.48" width="21.55" height="23.05" fill="#2f1872"/>
<rect x="1418.87" y="380.48" width="21.55" height="23.05" fill="#2f1872"/>
<rect x="82.90" y="403.53" width="21.55" height="23.05" fill="#2f1872"/>
<rect x="104.45" y="403.53" width="21.55" height="23.05" fill="#2f1872"/>
<rect x="125.99" y="403.53" width="21.55" height="23.05" fill="#2f1872"/>
<rect x="147.54" y="403.53" width="21.55" height="23.05" fill="#2f1873"/>
<rect x="169.09" y="403.53" width="21.55" height="23.05" fill="#311b75"/>
<rect x="190.64" y="403.53" width="21.55" height="23.05" fill="#342079"/>
<rect x="212.19" y="403.53" width="21.55" height="23.05" fill="#36257d"/>
<rect x="233.73" y="403.53" width="21.55" height="23.05" fill="#392981"/>
<rect x="255.28" y="403.53" width="21.55" height="23.05" fill="#3e3187"/>
<rect x="276.83" y="403.53" width="21.55" height="23.05" fill="#443e92"/>
<rect x="298.38" y="403.53" width="21.55" height="23.05" fill="#48489a"/>
<rect x="319.93" y="403.53" width="21.55" height="23.05" fill="#4a5aa8"/>
<rect x="341.47" y="403.53" width="21.55" height="23.05" fill="#5173bf"/>
<rect x="363.02" y="403.53" width="21.55" height="23.05" fill="#5585cb"/>
<rect x="384.57" y="403.53" width="21.55" height="23.05" fill="#568ec6"/>
<rect x="406.12" y="403.53" width="21.55" height="23.05" fill="#5897bc"/>
<rect x="427.67" y="403.53" width="21.55" height="23.05" fill="#5a9aaf"/>
<rect x="449.21" y="403.53" width="21.55" height="23.05" fill="#5a9ca8"/>
<rect x="470.76" y="403.53" width="21.55" height="23.05" fill="#5a9ca7"/>
<rect x="492.31" y="403.53" width="21.55" height="23.05" fill="#5a9ca7"/>
<rect x="513.86" y="403.53" width="21.55" height="23.05" fill="#5a9baa"/>
<rect x="535.41" y="403.53" width="21.55" height="23.05" fill="#5999b3"/>
<rect x="556.95" y="403.53" width="21.55" height="23.05" fill="#5795c0"/>
<rect x="578.50" y="403.53" width="21.55" height="23.05" fill="#568ec6"/>
<rect x="600.05" y="403.53" width="21.55" height="23.05" fill="#5585cb"/>
<rect x="621.60" y="403.53" width="21.55" height="23.05" fill="#5279c3"/>
<rect x="643.15" y="403.53" width="21.55" height="23.05" fill="#4e68b5"/>
<rect x="664.69" y="403.53" width="21.55" height="23.05" fill="#4a5aa8"/>
<rect x="686.24" y="403.53" width="21.55" height="23.05" fill="#4951a1"/>
<rect x="707.79" y="403.53" width="21.55" height="23.05" fill="#474699"/>
<rect x="729.34" y="403.53" width="21.55" height="23.05" fill="#444093"/>
<rect x="750.89" y="403.53" width="21.55" height="23.05" fill="#42398d"/>
<rect x="772.43" y="403.53" width="21.55" height="23.05" fill="#3f3388"/>
<rect x="793.98" y="403.53" width="21.55" height="23.05" fill="#3d3086"/>
<rect x="815.53" y="403.53" width="21.55" height="23.05" fill="#3b2d84"/>
<rect x="837.08" y="403.53" width="21.55" height="23.05" fill="#392a82"/>
<rect x="858.63" y="403.53" width="21.55" height="23.05" fill="#38277f"/>
<rect x="880.17" y="403.53" width="21.55" height="23.05" fill="#36257d"/>
<rect x="901.72" y="403.53" width="21.55" height="23.05" fill="#35227b"/>
<rect x="923.27" y="403.53" width="21.55" height="23.05" fill="#342079"/>
<rect x="944.82" y="403.53" width="21.55" height="23.05" fill="#321e78"/>
<rect x="966.37" y="403.53" width="21.55" height="23.05" fill="#311c76"/>
<rect x="987.91" y="403.53" width="21.55" height="23.05" fill="#301a75"/>
<rect x="1009.46" y="403.53" width="21.55" height="23.05" fill="#301974"/>
<rect x="1031.01" y="403.53" width="21.55" height="23.05" fill="#2f1873"/>
<rect x="1052.56" y="403.53" width="21.55" height="23.05" fill="#2f1872"/>
<rect x="1074.11" y="403.53" width="21.55" height="23.05" fill="#2f1872"/>
<rect x="1095.65" y="403.53" width="21.55" height="23.05" fill="#2f1872"/>
<rect x="1117.20" y="403.53" width="21.55" height="23.05" fill="#2f1872"/>
<rect x="1138.75" y="403.53" width="21.55" height="23.05" fill="#2f1872"/>
<rect x="1160.30" y="403.53" width="21.55" height="23.05" fill="#2f1872"/>
<rect x="1181.85" y="403.53" width="21.55" height="23.05" fill="#2f1872"/>
<rect x="1203.39" y="403.53" width="21.55" height="23.05" fill="#2f1872"/>
<rect x="1224.94" y="403.53" width="21.55" height="23.05" fill="#2f1872"/>
<rect x="1246.49" y="403.53" width="21.55" height="23.05" fill="#2f1872"/>
<rect x="1268.04" y="403.53" width="21.55" height="23.05" fill="#2f1872"/>
<rect x="1289.59" y="403.53" width="21.55" height="23.05" fill="#2f1872"/>
<rect x="1311.13" y="403.53" width="21.55" height="23.05" fill="#2f1872"/>
<rect x="1332.68" y="403.53" width="21.55" height="23.05" fill="#2f1872"/>
<rect x="1354.23" y="403.53" width="21.55" height="23.05" fill="#2f1872"/>
<rect x="1375.78" y="403.53" width="21.55" height="23.05" fill="#2f1872"/>
<rect x="1397.33" y="403.53" width="21.55" height="23.05" fill="#2f1872"/>
<rect x="1418.87" y="403.53" width="21.55" height="23.05" fill="#2f1872"/>
<rect x="82.90" y="426.57" width="21.55" height="23.05" fill="#2f1872"/>
<rect x="104.45" y="426.57" width="21.55" height="23.05" fill="#2f1872"/>
<rect x="125.99" y="426.57" width="21.55" height="23.05" fill="#2f1872"/>
<rect x="147.54" y="426.57" width="21.55" height="23.05" fill="#2f1872"/>
<rect x="169.09" y="426.57" width="21.55" height="23.05" fill="#2f1872"/>
<rect x="190.64" y="426.57" width="21.55" height="23.05" fill="#301973"/>
<rect x="212.19" y="426.57" width="21.55" height="23.05" fill="#301a75"/>
<rect x="233.73" y="426.57" width="21.55" height="23.05" fill="#311c76"/>
<rect x="255.28" y="426.57" width="21.55" height="23.05" fill="#331e78"/>
<rect x="276.83" y="426.57" width="21.55" height="23.05" fill="#35227b"/>
<rect x="298.38" y="426.57" width="21.55" height="23.05" fill="#36257e"/>
<rect x="319.93" y="426.57" width="21.55" height="23.05" fill="#392981"/>
<rect x="341.47" y="426.57" width="21.55" height="23.05" fill="#3a2c83"/>
<rect x="363.02" y="426.57" width="21.55" height="23.05" fill="#3c2f85"/>
<rect x="384.57" y="426.57" width="21.55" height="23.05" fill="#3d3187"/>
<rect x="406.12" y="426.57" width="21.55" height="23.05" fill="#3f3388"/>
<rect x="427.67" y="426.57" width="21.55" height="23.05" fill="#403489"/>
<rect x="449.21" y="426.57" width="21.55" height="23.05" fill="#40358a"/>
<rect x="470.76" y="426.57" width="21.55" height="23.05" fill="#40358a"/>
<rect x="492.31" y="426.57" width="21.55" height="23.05" fill="#40358a"/>
<rect x="513.86" y="426.57" width="21.55" height="23.05" fill="#40358a"/>
<rect x="535.41" y="426.57" width="21.55" height="23.05" fill="#3f3489"/>
<rect x="556.95" y="426.57" width="21.55" height="23.05" fill="#3e3288"/>
<rect x="578.50" y="426.57" width="21.55" height="23.05" fill="#3d3187"/>
<rect x="600.05" y="426.57" width="21.55" height="23.05" fill="#3c2f85"/>
<rect x="621.60" y="426.57" width="21.55" height="23.05" fill="#3b2d84"/>
<rect x="643.15" y="426.57" width="21.55" height="23.05" fill="#3a2b82"/>
<rect x="664.69" y="426.57" width="21.55" height="23.05" fill="#392981"/>
<rect x="686.24" y="426.57" width="21.55" height="23.05" fill="#37277f"/>
<rect x="707.79" y="426.57" width="21.55" height="23.05" fill="#36257d"/>
<rect x="729.34" y="426.57" width="21.55" height="23.05" fill="#35237c"/>
<rect x="750.89" y="426.57" width="21.55" height="23.05" fill="#34217a"/>
<rect x="772.43" y="426.57" width="21.55" height="23.05" fill="#331f78"/>
<rect x="793.98" y="426.57" width="21.55" height="23.05" fill="#321e78"/>
<rect x="815.53" y="426.57" width="21.55" height="23.05" fill="#321d77"/>
<rect x="837.08" y="426.57" width="21.55" height="23.05" fill="#311c76"/>
<rect x="858.63" y="426.57" width="21.55" height="23.05" fill="#311b75"/>
<rect x="880.17" y="426.57" width="21.55" height="23.05" fill="#301a75"/>
<rect x="901.72" y="426.57" width="21.55" height="23.05" fill="#301974"/>
<rect x="923.27" y="426.57" width="21.55" height="23.05" fill="#301973"/>
<rect x="944.82" y="426.57" width="21.55" height="23.05" fill="#2f1873"/>
<rect x="966.37" y="426.57" width="21.55" height="23.05" fill="#2f1872"/>
<rect x="987.91" y="426.57" width="21.55" height="23.05" fill="#2f1872"/>
<rect x="1009.46" y="426.57" width="21.55" height="23.05" fill="#2f1872"/>
<rect x="1031.01" y="426.57" width="21.55" height="23.05" fill="#2f1872"/>
<rect x="1052.56" y="426.57" width="21.55" height="23.05" fill="#2f1872"/>
<rect x="1074.11" y="426.57" width="21.55" height="23.05" fill="#2f1872"/>
<rect x="1095.65" y="426.57" width="21.55" height="23.05" fill="#2f1872"/>
<rect x="1117.20" y="426.57" width="21.55" height="23.05" fill="#2f1872"/>
<rect x="1138.75" y="426.57" width="21.55" height="23.05" fill="#2f1872"/>
<rect x="1160.30" y="426.57" width="21.55" height="23.05" fill="#2f1872"/>
<rect x="1181.85" y="426.57" width="21.55" height="23.05" fill="#2f1872"/>
<rect x="1203.39" y="426.57" width="21.55" height="23.05" fill="#2f1872"/>
<rect x="1224.94" y="426.57" width="21.55" height="23.05" fill="#2f1872"/>
<rect x="1246.49" y="426.57" width="21.55" height="23.05" fill="#2f1872"/>
<rect x="1268.04" y="426.57" width="21.55" height="23.05" fill="#2f1872"/>
<rect x="1289.59" y="426.57" width="21.55" height="23.05" fill="#2f1872"/>
<rect x="1311.13" y="426.57" width="21.55" height="23.05" fill="#2f1872"/>
<rect x="1332.68" y="426.57" width="21.55" height="23.05" fill="#2f1872"/>
<rect x="1354.23" y="426.57" width="21.55" height="23.05" fill="#2f1872"/>
<rect x="1375.78" y="426.57" width="21.55" height="23.05" fill="#2f1872"/>
<rect x="1397.33" y="426.57" width="21.55" height="23.05" fill="#2f1872"/>
<rect x="1418.87" y="426.57" width="21.55" height="23.05" fill="#2f1872"/>
<rect x="82.90" y="449.62" width="21.55" height="23.05" fill="#2f1872"/>
<rect x="104.45" y="449.62" width="21.55" height="23.05" fill="#2f1872"/>
<rect x="125.99" y="449.62" width="21.55" height="23.05" fill="#2f1872"/>
<rect x="147.54" y="449.62" width="21.55" height="23.05" fill="#301a74"/>
<rect x="169.09" y="449.62" width="21.55" height="23.05" fill="#331f79"/>
<rect x="190.64" y="449.62" width="21.55" height="23.05" fill="#382880"/>
<rect x="212.19" y="449.62" width="21.55" height="23.05" fill="#3c2f85"/>
<rect x="233.73" y="449.62" width="21.55" height="23.05" fill="#40368b"/>
<rect x="255.28" y="449.62" width="21.55" height="23.05" fill="#474698"/>
<rect x="276.83" y="449.62" width="21.55" height="23.05" fill="#4e68b6"/>
<rect x="298.38" y="449.62" width="21.55" height="23.05" fill="#5587ca"/>
<rect x="319.93" y="449.62" width="21.55" height="23.05" fill="#5a9ca7"/>
<rect x="341.47" y="449.62" width="21.55" height="23.05" fill="#67a678"/>
<rect x="363.02" y="449.62" width="21.55" height="23.05" fill="#83b14e"/>
<rect x="384.57" y="449.62" width="21.55" height="23.05" fill="#a5b634"/>
<rect x="406.12" y="449.62" width="21.55" height="23.05" fill="#c4b12a"/>
<rect x="427.67" y="449.62" width="21.55" height="23.05" fill="#d1b033"/>
<rect x="449.21" y="449.62" width="21.55" height="23.05" fill="#d7b039"/>
<rect x="470.76" y="449.62" width="21.55" height="23.05" fill="#d8b03a"/>
<rect x="492.31" y="449.62" width="21.55" height="23.05" fill="#d8b03a"/>
<rect x="513.86" y="449.62" width="21.55" height="23.05" fill="#d5b037"/>
<rect x="535.41" y="449.62" width="21.55" height="23.05" fill="#cdb02f"/>
<rect x="556.95" y="449.62" width="21.55" height="23.05" fill="#beb32b"/>
<rect x="578.50" y="449.62" width="21.55" height="23.05" fill="#a5b634"/>
<rect x="600.05" y="449.62" width="21.55" height="23.05" fill="#83b14e"/>
<rect x="621.60" y="449.62" width="21.55" height="23.05" fill="#6da96a"/>
<rect x="643.15" y="449.62" width="21.55" height="23.05" fill="#5da38d"/>
<rect x="664.69" y="449.62" width="21.55" height="23.05" fill="#5a9ca7"/>
<rect x="686.24" y="449.62" width="21.55" height="23.05" fill="#5794c3"/>
<rect x="707.79" y="449.62" width="21.55" height="23.05" fill="#5584ca"/>
<rect x="729.34" y="449.62" width="21.55" height="23.05" fill="#506fbc"/>
<rect x="750.89" y="449.62" width="21.55" height="23.05" fill="#4a57a6"/>
<rect x="772.43" y="449.62" width="21.55" height="23.05" fill="#48489a"/>
<rect x="793.98" y="449.62" width="21.55" height="23.05" fill="#464396"/>
<rect x="815.53" y="449.62" width="21.55" height="23.05" fill="#433d91"/>
<rect x="837.08" y="449.62" width="21.55" height="23.05" fill="#41388c"/>
<rect x="858.63" y="449.62" width="21.55" height="23.05" fill="#3e3288"/>
<rect x="880.17" y="449.62" width="21.55" height="23.05" fill="#3c2f85"/>
<rect x="901.72" y="449.62" width="21.55" height="23.05" fill="#3a2b82"/>
<rect x="923.27" y="449.62" width="21.55" height="23.05" fill="#382880"/>
<rect x="944.82" y="449.62" width="21.55" height="23.05" fill="#36247c"/>
<rect x="966.37" y="449.62" width="21.55" height="23.05" fill="#34207a"/>
<rect x="987.91" y="449.62" width="21.55" height="23.05" fill="#321e77"/>
<rect x="1009.46" y="449.62" width="21.55" height="23.05" fill="#311c76"/>
<rect x="1031.01" y="449.62" width="21.55" height="23.05" fill="#301a74"/>
<rect x="1052.56" y="449.62" width="21.55" height="23.05" fill="#301973"/>
<rect x="1074.11" y="449.62" width="21.55" height="23.05" fill="#2f1872"/>
<rect x="1095.65" y="449.62" width="21.55" height="23.05" fill="#2f1872"/>
<rect x="1117.20" y="449.62" width="21.55" height="23.05" fill="#2f1872"/>
<rect x="1138.75" y="449.62" width="21.55" height="23.05" fill="#2f1872"/>
<rect x="1160.30" y="449.62" width="21.55" height="23.05" fill="#2f1872"/>
<rect x="1181.85" y="449.62" width="21.55" height="23.05" fill="#2f1872"/>
<rect x="1203.39" y="449.62" width="21.55" height="23.05" fill="#2f1872"/>
<rect x="1224.94" y="449.62" width="21.55" height="23.05" fill="#2f1872"/>
<rect x="1246.49" y="449.62" width="21.55" height="23.05" fill="#2f1872"/>
<rect x="1268.04" y="449.62" width="21.55" height="23.05" fill="#2f1872"/>
<rect x="1289.59" y="449.62" width="21.55" height="23.05" fill="#2f1872"/>
<rect x="1311.13" y="449.62" width="21.55" height="23.05" fill="#2f1872"/>
<rect x="1332.68" y="449.62" width="21.55" height="23.05" fill="#2f1872"/>
<rect x="1354.23" y="449.62" width="21.55" height="23.05" fill="#2f1872"/>
<rect x="1375.78" y="449.62" width="21.55" height="23.05" fill="#2f1872"/>
<rect x="1397.33" y="449.62" width="21.55" height="23.05" fill="#2f1872"/>
<rect x="1418.87" y="449.62" width="21.55" height="23.05" fill="#2f1872"/>
<rect x="82.90" y="472.66" width="21.55" height="23.05" fill="#2f1872"/>
<rect x="104.45" y="472.66" width="21.55" height="23.05" fill="#2f1872"/>
<rect x="125.99" y="472.66" width="21.55" height="23.05" fill="#2f1872"/>
<rect x="147.54" y="472.66" width="21.55" height="23.05" fill="#301973"/>
<rect x="169.09" y="472.66" width="21.55" height="23.05" fill="#321d77"/>
<rect x="190.64" y="472.66" width="21.55" height="23.05" fill="#35237c"/>
<rect x="212.19" y="472.66" width="21.55" height="23.05" fill="#392981"/>
<rect x="233.73" y="472.66" width="21.55" height="23.05" fill="#3c2f85"/>
<rect x="255.28" y="472.66" width="21.55" height="23.05" fill="#423a8e"/>
<rect x="276.83" y="472.66" width="21.55" height="23.05" fill="#484c9d"/>
<rect x="298.38" y="472.66" width="21.55" height="23.05" fill="#4b5eac"/>
<rect x="319.93" y="472.66" width="21.55" height="23.05" fill="#5482c9"/>
<rect x="341.47" y="472.66" width="21.55" height="23.05" fill="#5794c2"/>
<rect x="363.02" y="472.66" width="21.55" height="23.05" fill="#5a9da3"/>
<rect x="384.57" y="472.66" width="21.55" height="23.05" fill="#5fa38a"/>
<rect x="406.12" y="472.66" width="21.55" height="23.05" fill="#6ba86e"/>
<rect x="427.67" y="472.66" width="21.55" height="23.05" fill="#74ac5e"/>
<rect x="449.21" y="472.66" width="21.55" height="23.05" fill="#7aae56"/>
<rect x="470.76" y="472.66" width="21.55" height="23.05" fill="#7cae55"/>
<rect x="492.31" y="472.66" width="21.55" height="23.05" fill="#7cae55"/>
<rect x="513.86" y="472.66" width="21.55" height="23.05" fill="#77ad59"/>
<rect x="535.41" y="472.66" width="21.55" height="23.05" fill="#71aa64"/>
<rect x="556.95" y="472.66" width="21.55" height="23.05" fill="#68a774"/>
<rect x="578.50" y="472.66" width="21.55" height="23.05" fill="#5fa38a"/>
<rect x="600.05" y="472.66" width="21.55" height="23.05" fill="#5a9da3"/>
<rect x="621.60" y="472.66" width="21.55" height="23.05" fill="#5898b8"/>
<rect x="643.15" y="472.66" width="21.55" height="23.05" fill="#568dc6"/>
<rect x="664.69" y="472.66" width="21.55" height="23.05" fill="#5482c9"/>
<rect x="686.24" y="472.66" width="21.55" height="23.05" fill="#5173bf"/>
<rect x="707.79" y="472.66" width="21.55" height="23.05" fill="#4a5aa9"/>
<rect x="729.34" y="472.66" width="21.55" height="23.05" fill="#494fa0"/>
<rect x="750.89" y="472.66" width="21.55" height="23.05" fill="#474597"/>
<rect x="772.43" y="472.66" width="21.55" height="23.05" fill="#433c90"/>
<rect x="793.98" y="472.66" width="21.55" height="23.05" fill="#41388c"/>
<rect x="815.53" y="472.66" width="21.55" height="23.05" fill="#3f3489"/>
<rect x="837.08" y="472.66" width="21.55" height="23.05" fill="#3d3086"/>
<rect x="858.63" y="472.66" width="21.55" height="23.05" fill="#3b2c83"/>
<rect x="880.17" y="472.66" width="21.55" height="23.05" fill="#392981"/>
<rect x="901.72" y="472.66" width="21.55" height="23.05" fill="#37267f"/>
<rect x="923.27" y="472.66" width="21.55" height="23.05" fill="#35237c"/>
<rect x="944.82" y="472.66" width="21.55" height="23.05" fill="#34207a"/>
<rect x="966.37" y="472.66" width="21.55" height="23.05" fill="#321e78"/>
<rect x="987.91" y="472.66" width="21.55" height="23.05" fill="#311c76"/>
<rect x="1009.46" y="472.66" width="21.55" height="23.05" fill="#301a74"/>
<rect x="1031.01" y="472.66" width="21.55" height="23.05" fill="#301973"/>
<rect x="1052.56" y="472.66" width="21.55" height="23.05" fill="#2f1873"/>
<rect x="1074.11" y="472.66" width="21.55" height="23.05" fill="#2f1872"/>
<rect x="1095.65" y="472.66" width="21.55" height="23.05" fill="#2f1872"/>
<rect x="1117.20" y="472.66" width="21.55" height="23.05" fill="#2f1872"/>
<rect x="1138.75" y="472.66" width="21.55" height="23.05" fill="#2f1872"/>
<rect x="1160.30" y="472.66" width="21.55" height="23.05" fill="#2f1872"/>
<rect x="1181.85" y="472.66" width="21.55" height="23.05" fill="#2f1872"/>
<rect x="1203.39" y="472.66" width="21.55" height="23.05" fill="#2f1872"/>
<rect x="1224.94" y="472.66" width="21.55" height="23.05" fill="#2f1872"/>
<rect x="1246.49" y="472.66" width="21.55" height="23.05" fill="#2f1872"/>
<rect x="1268.04" y="472.66" width="21.55" height="23.05" fill="#2f1872"/>
<rect x="1289.59" y="472.66" width="21.55" height="23.05" fill="#2f1872"/>
<rect x="1311.13" y="472.66" width="21.55" height="23.05" fill="#2f1872"/>
<rect x="1332.68" y="472.66" width="21.55" height="23.05" fill="#2f1872"/>
<rect x="1354.23" y="472.66" width="21.55" height="23.05" fill="#2f1872"/>
<rect x="1375.78" y="472.66" width="21.55" height="23.05" fill="#2f1872"/>
<rect x="1397.33" y="472.66" width="21.55" height="23.05" fill="#2f1872"/>
<rect x="1418.87" y="472.66" width="21.55" height="23.05" fill="#2f1872"/>
<rect x="82.90" y="495.71" width="21.55" height="23.05" fill="#2f1872"/>
<rect x="104.45" y="495.71" width="21.55" height="23.05" fill="#2f1872"/>
<rect x="125.99" y="495.71" width="21.55" height="23.05" fill="#2f1872"/>
<rect x="147.54" y="495.71" width="21.55" height="23.05" fill="#2f1873"/>
<rect x="169.09" y="495.71" width="21.55" height="23.05" fill="#311b75"/>
<rect x="190.64" y="495.71" width="21.55" height="23.05" fill="#331f78"/>
<rect x="212.19" y="495.71" width="21.55" height="23.05" fill="#35237c"/>
<rect x="233.73" y="495.71" width="21.55" height="23.05" fill="#37277f"/>
<rect x="255.28" y="495.71" width="21.55" height="23.05" fill="#3c2e85"/>
<rect x="276.83" y="495.71" width="21.55" height="23.05" fill="#42398d"/>
<rect x="298.38" y="495.71" width="21.55" height="23.05" fill="#454295"/>
<rect x="319.93" y="495.71" width="21.55" height="23.05" fill="#494f9f"/>
<rect x="341.47" y="495.71" width="21.55" height="23.05" fill="#4a5dab"/>
<rect x="363.02" y="495.71" width="21.55" height="23.05" fill="#5072be"/>
<rect x="384.57" y="495.71" width="21.55" height="23.05" fill="#547fc7"/>
<rect x="406.12" y="495.71" width="21.55" height="23.05" fill="#5689c9"/>
<rect x="427.67" y="495.71" width="21.55" height="23.05" fill="#568ec6"/>
<rect x="449.21" y="495.71" width="21.55" height="23.05" fill="#5691c4"/>
<rect x="470.76" y="495.71" width="21.55" height="23.05" fill="#5791c4"/>
<rect x="492.31" y="495.71" width="21.55" height="23.05" fill="#5791c4"/>
<rect x="513.86" y="495.71" width="21.55" height="23.05" fill="#5690c5"/>
<rect x="535.41" y="495.71" width="21.55" height="23.05" fill="#568dc7"/>
<rect x="556.95" y="495.71" width="21.55" height="23.05" fill="#5588c9"/>
<rect x="578.50" y="495.71" width="21.55" height="23.05" fill="#547fc7"/>
<rect x="600.05" y="495.71" width="21.55" height="23.05" fill="#5072be"/>
<rect x="621.60" y="495.71" width="21.55" height="23.05" fill="#4c64b2"/>
<rect x="643.15" y="495.71" width="21.55" height="23.05" fill="#4957a6"/>
<rect x="664.69" y="495.71" width="21.55" height="23.05" fill="#494f9f"/>
<rect x="686.24" y="495.71" width="21.55" height="23.05" fill="#484799"/>
<rect x="707.79" y="495.71" width="21.55" height="23.05" fill="#464295"/>
<rect x="729.34" y="495.71" width="21.55" height="23.05" fill="#443e92"/>
<rect x="750.89" y="495.71" width="21.55" height="23.05" fill="#42398e"/>
<rect x="772.43" y="495.71" width="21.55" height="23.05" fill="#3f3389"/>
<rect x="793.98" y="495.71" width="21.55" height="23.05" fill="#3d3086"/>
<rect x="815.53" y="495.71" width="21.55" height="23.05" fill="#3b2d84"/>
<rect x="837.08" y="495.71" width="21.55" height="23.05" fill="#392a82"/>
<rect x="858.63" y="495.71" width="21.55" height="23.05" fill="#38277f"/>
<rect x="880.17" y="495.71" width="21.55" height="23.05" fill="#36257e"/>
<rect x="901.72" y="495.71" width="21.55" height="23.05" fill="#35237b"/>
<rect x="923.27" y="495.71" width="21.55" height="23.05" fill="#34207a"/>
<rect x="944.82" y="495.71" width="21.55" height="23.05" fill="#321e78"/>
<rect x="966.37" y="495.71" width="21.55" height="23.05" fill="#311c76"/>
<rect x="987.91" y="495.71" width="21.55" height="23.05" fill="#301a75"/>
<rect x="1009.46" y="495.71" width="21.55" height="23.05" fill="#301974"/>
<rect x="1031.01" y="495.71" width="21.55" height="23.05" fill="#2f1873"/>
<rect x="1052.56" y="495.71" width="21.55" height="23.05" fill="#2f1872"/>
<rect x="1074.11" y="495.71" width="21.55" height="23.05" fill="#2f1872"/>
<rect x="1095.65" y="495.71" width="21.55" height="23.05" fill="#2f1872"/>
<rect x="1117.20" y="495.71" width="21.55" height="23.05" fill="#2f1872"/>
<rect x="1138.75" y="495.71" width="21.55" height="23.05" fill="#2f1872"/>
<rect x="1160.30" y="495.71" width="21.55" height="23.05" fill="#2f1872"/>
<rect x="1181.85" y="495.71" width="21.55" height="23.05" fill="#2f1872"/>
<rect x="1203.39" y="495.71" width="21.55" height="23.05" fill="#2f1872"/>
<rect x="1224.94" y="495.71" width="21.55" height="23.05" fill="#2f1872"/>
<rect x="1246.49" y="495.71" width="21.55" height="23.05" fill="#2f1872"/>
<rect x="1268.04" y="495.71" width="21.55" height="23.05" fill="#2f1872"/>
<rect x="1289.59" y="495.71" width="21.55" height="23.05" fill="#2f1872"/>
<rect x="1311.13" y="495.71" width="21.55" height="23.05" fill="#2f1872"/>
<rect x="1332.68" y="495.71" width="21.55" height="23.05" fill="#2f1872"/>
<rect x="1354.23" y="495.71" width="21.55" height="23.05" fill="#2f1872"/>
<rect x="1375.78" y="495.71" width="21.55" height="23.05" fill="#2f1872"/>
<rect x="1397.33" y="495.71" width="21.55" height="23.05" fill="#2f1872"/>
<rect x="1418.87" y="495.71" width="21.55" height="23.05" fill="#2f1872"/>
<rect x="82.90" y="518.75" width="21.55" height="23.05" fill="#2f1872"/>
<rect x="104.45" y="518.75" width="21.55" height="23.05" fill="#2f1872"/>
<rect x="125.99" y="518.75" width="21.55" height="23.05" fill="#2f1872"/>
<rect x="147.54" y="518.75" width="21.55" height="23.05" fill="#301974"/>
<rect x="169.09" y="518.75" width="21.55" height="23.05" fill="#321d77"/>
<rect x="190.64" y="518.75" width="21.55" height="23.05" fill="#36247c"/>
<rect x="212.19" y="518.75" width="21.55" height="23.05" fill="#392a81"/>
<rect x="233.73" y="518.75" width="21.55" height="23.05" fill="#3c2f86"/>
<rect x="255.28" y="518.75" width="21.55" height="23.05" fill="#423b8f"/>
<rect x="276.83" y="518.75" width="21.55" height="23.05" fill="#494e9f"/>
<rect x="298.38" y="518.75" width="21.55" height="23.05" fill="#4c62b0"/>
<rect x="319.93" y="518.75" width="21.55" height="23.05" fill="#5586cb"/>
<rect x="341.47" y="518.75" width="21.55" height="23.05" fill="#5896bd"/>
<rect x="363.02" y="518.75" width="21.55" height="23.05" fill="#5b9f9d"/>
<rect x="384.57" y="518.75" width="21.55" height="23.05" fill="#62a582"/>
<rect x="406.12" y="518.75" width="21.55" height="23.05" fill="#6faa67"/>
<rect x="427.67" y="518.75" width="21.55" height="23.05" fill="#7aae56"/>
<rect x="449.21" y="518.75" width="21.55" height="23.05" fill="#84b14e"/>
<rect x="470.76" y="518.75" width="21.55" height="23.05" fill="#85b24d"/>
<rect x="492.31" y="518.75" width="21.55" height="23.05" fill="#85b24d"/>
<rect x="513.86" y="518.75" width="21.55" height="23.05" fill="#80b051"/>
<rect x="535.41" y="518.75" width="21.55" height="23.05" fill="#76ac5c"/>
<rect x="556.95" y="518.75" width="21.55" height="23.05" fill="#6ca86c"/>
<rect x="578.50" y="518.75" width="21.55" height="23.05" fill="#62a582"/>
<rect x="600.05" y="518.75" width="21.55" height="23.05" fill="#5b9f9d"/>
<rect x="621.60" y="518.75" width="21.55" height="23.05" fill="#5999b2"/>
<rect x="643.15" y="518.75" width="21.55" height="23.05" fill="#568fc5"/>
<rect x="664.69" y="518.75" width="21.55" height="23.05" fill="#5586cb"/>
<rect x="686.24" y="518.75" width="21.55" height="23.05" fill="#5176c1"/>
<rect x="707.79" y="518.75" width="21.55" height="23.05" fill="#4d65b3"/>
<rect x="729.34" y="518.75" width="21.55" height="23.05" fill="#4a59a7"/>
<rect x="750.89" y="518.75" width="21.55" height="23.05" fill="#494fa0"/>
<rect x="772.43" y="518.75" width="21.55" height="23.05" fill="#464396"/>
<rect x="793.98" y="518.75" width="21.55" height="23.05" fill="#443e92"/>
<rect x="815.53" y="518.75" width="21.55" height="23.05" fill="#42398d"/>
<rect x="837.08" y="518.75" width="21.55" height="23.05" fill="#3f3489"/>
<rect x="858.63" y="518.75" width="21.55" height="23.05" fill="#3d3086"/>
<rect x="880.17" y="518.75" width="21.55" height="23.05" fill="#3b2d84"/>
<rect x="901.72" y="518.75" width="21.55" height="23.05" fill="#392981"/>
<rect x="923.27" y="518.75" width="21.55" height="23.05" fill="#37267e"/>
<rect x="944.82" y="518.75" width="21.55" height="23.05" fill="#35227b"/>
<rect x="966.37" y="518.75" width="21.55" height="23.05" fill="#331f79"/>
<rect x="987.91" y="518.75" width="21.55" height="23.05" fill="#321d77"/>
<rect x="1009.46" y="518.75" width="21.55" height="23.05" fill="#311b75"/>
<rect x="1031.01" y="518.75" width="21.55" height="23.05" fill="#301a74"/>
<rect x="1052.56" y="518.75" width="21.55" height="23.05" fill="#2f1973"/>
<rect x="1074.11" y="518.75" width="21.55" height="23.05" fill="#2f1872"/>
<rect x="1095.65" y="518.75" width="21.55" height="23.05" fill="#2f1872"/>
<rect x="1117.20" y="518.75" width="21.55" height="23.05" fill="#2f1872"/>
<rect x="1138.75" y="518.75" width="21.55" height="23.05" fill="#2f1872"/>
<rect x="1160.30" y="518.75" width="21.55" height="23.05" fill="#2f1872"/>
<rect x="1181.85" y="518.75" width="21.55" height="23.05" fill="#2f1872"/>
<rect x="1203.39" y="518.75" width="21.55" height="23.05" fill="#2f1872"/>
<rect x="1224.94" y="518.75" width="21.55" height="23.05" fill="#2f1872"/>
<rect x="1246.49" y="518.75" width="21.55" height="23.05" fill="#2f1872"/>
<rect x="1268.04" y="518.75" width="21.55" height="23.05" fill="#2f1872"/>
<rect x="1289.59" y="518.75" width="21.55" height="23.05" fill="#2f1872"/>
<rect x="1311.13" y="518.75" width="21.55" height="23.05" fill="#2f1872"/>
<rect x="1332.68" y="518.75" width="21.55" height="23.05" fill="#2f1872"/>
<rect x="1354.23" y="518.75" width="21.55" height="23.05" fill="#2f1872"/>
<rect x="1375.78" y="518.75" width="21.55" height="23.05" fill="#2f1872"/>
<rect x="1397.33" y="518.75" width="21.55" height="23.05" fill="#2f1872"/>
<rect x="1418.87" y="518.75" width="21.55" height="23.05" fill="#2f1872"/>
<rect x="82.90" y="541.80" width="21.55" height="23.05" fill="#2f1872"/>
<rect x="104.45" y="541.80" width="21.55" height="23.05" fill="#2f1872"/>
<rect x="125.99" y="541.80" width="21.55" height="23.05" fill="#2f1872"/>
<rect x="147.54" y="541.80" width="21.55" height="23.05" fill="#2f1872"/>
<rect x="169.09" y="541.80" width="21.55" height="23.05" fill="#301a74"/>
<rect x="190.64" y="541.80" width="21.55" height="23.05" fill="#321d77"/>
<rect x="212.19" y="541.80" width="21.55" height="23.05" fill="#34217a"/>
<rect x="233.73" y="541.80" width="21.55" height="23.05" fill="#36247d"/>
<rect x="255.28" y="541.80" width="21.55" height="23.05" fill="#392a82"/>
<rect x="276.83" y="541.80" width="21.55" height="23.05" fill="#3f3388"/>
<rect x="298.38" y="541.80" width="21.55" height="23.05" fill="#423a8e"/>
<rect x="319.93" y="541.80" width="21.55" height="23.05" fill="#464396"/>
<rect x="341.47" y="541.80" width="21.55" height="23.05" fill="#484d9e"/>
<rect x="363.02" y="541.80" width="21.55" height="23.05" fill="#4956a5"/>
<rect x="384.57" y="541.80" width="21.55" height="23.05" fill="#4b60ae"/>
<rect x="406.12" y="541.80" width="21.55" height="23.05" fill="#506fbc"/>
<rect x="427.67" y="541.80" width="21.55" height="23.05" fill="#5176c1"/>
<rect x="449.21" y="541.80" width="21.55" height="23.05" fill="#5279c3"/>
<rect x="470.76" y="541.80" width="21.55" height="23.05" fill="#527ac4"/>
<rect x="492.31" y="541.80" width="21.55" height="23.05" fill="#527ac4"/>
<rect x="513.86" y="541.80" width="21.55" height="23.05" fill="#5278c2"/>
<rect x="535.41" y="541.80" width="21.55" height="23.05" fill="#5174c0"/>
<rect x="556.95" y="541.80" width="21.55" height="23.05" fill="#4f6cb9"/>
<rect x="578.50" y="541.80" width="21.55" height="23.05" fill="#4b60ae"/>
<rect x="600.05" y="541.80" width="21.55" height="23.05" fill="#4956a5"/>
<rect x="621.60" y="541.80" width="21.55" height="23.05" fill="#4950a0"/>
<rect x="643.15" y="541.80" width="21.55" height="23.05" fill="#48489a"/>
<rect x="664.69" y="541.80" width="21.55" height="23.05" fill="#464396"/>
<rect x="686.24" y="541.80" width="21.55" height="23.05" fill="#443e92"/>
<rect x="707.79" y="541.80" width="21.55" height="23.05" fill="#423a8e"/>
<rect x="729.34" y="541.80" width="21.55" height="23.05" fill="#41378b"/>
<rect x="750.89" y="541.80" width="21.55" height="23.05" fill="#3f3389"/>
<rect x="772.43" y="541.80" width="21.55" height="23.05" fill="#3c2e85"/>
<rect x="793.98" y="541.80" width="21.55" height="23.05" fill="#3a2c83"/>
<rect x="815.53" y="541.80" width="21.55" height="23.05" fill="#392981"/>
<rect x="837.08" y="541.80" width="21.55" height="23.05" fill="#37277f"/>
<rect x="858.63" y="541.80" width="21.55" height="23.05" fill="#36247d"/>
<rect x="880.17" y="541.80" width="21.55" height="23.05" fill="#35227b"/>
<rect x="901.72" y="541.80" width="21.55" height="23.05" fill="#34207a"/>
<rect x="923.27" y="541.80" width="21.55" height="23.05" fill="#331e78"/>
<rect x="944.82" y="541.80" width="21.55" height="23.05" fill="#321d76"/>
<rect x="966.37" y="541.80" width="21.55" height="23.05" fill="#311b75"/>
<rect x="987.91" y="541.80" width="21.55" height="23.05" fill="#301a74"/>
<rect x="1009.46" y="541.80" width="21.55" height="23.05" fill="#2f1973"/>
<rect x="1031.01" y="541.80" width="21.55" height="23.05" fill="#2f1872"/>
<rect x="1052.56" y="541.80" width="21.55" height="23.05" fill="#2f1872"/>
<rect x="1074.11" y="541.80" width="21.55" height="23.05" fill="#2f1872"/>
<rect x="1095.65" y="541.80" width="21.55" height="23.05" fill="#2f1872"/>
<rect x="1117.20" y="541.80" width="21.55" height="23.05" fill="#2f1872"/>
<rect x="1138.75" y="541.80" width="21.55" height="23.05" fill="#2f1872"/>
<rect x="1160.30" y="541.80" width="21.55" height="23.05" fill="#2f1872"/>
<rect x="1181.85" y="541.80" width="21.55" height="23.05" fill="#2f1872"/>
<rect x="1203.39" y="541.80" width="21.55" height="23.05" fill="#2f1872"/>
<rect x="1224.94" y="541.80" width="21.55" height="23.05" fill="#2f1872"/>
<rect x="1246.49" y="541.80" width="21.55" height="23.05" fill="#2f1872"/>
<rect x="1268.04" y="541.80" width="21.55" height="23.05" fill="#2f1872"/>
<rect x="1289.59" y="541.80" width="21.55" height="23.05" fill="#2f1872"/>
<rect x="1311.13" y="541.80" width="21.55" height="23.05" fill="#2f1872"/>
<rect x="1332.68" y="541.80" width="21.55" height="23.05" fill="#2f1872"/>
<rect x="1354.23" y="541.80" width="21.55" height="23.05" fill="#2f1872"/>
<rect x="1375.78" y="541.80" width="21.55" height="23.05" fill="#2f1872"/>
<rect x="1397.33" y="541.80" width="21.55" height="23.05" fill="#2f1872"/>
<rect x="1418.87" y="541.80" width="21.55" height="23.05" fill="#2f1872"/>
<rect x="82.90" y="564.84" width="21.55" height="23.05" fill="#2f1872"/>
<rect x="104.45" y="564.84" width="21.55" height="23.05" fill="#2f1872"/>
<rect x="125.99" y="564.84" width="21.55" height="23.05" fill="#2f1872"/>
<rect x="147.54" y="564.84" width="21.55" height="23.05" fill="#2f1873"/>
<rect x="169.09" y="564.84" width="21.55" height="23.05" fill="#311b75"/>
<rect x="190.64" y="564.84" width="21.55" height="23.05" fill="#332079"/>
<rect x="212.19" y="564.84" width="21.55" height="23.05" fill="#36247d"/>
<rect x="233.73" y="564.84" width="21.55" height="23.05" fill="#382981"/>
<rect x="255.28" y="564.84" width="21.55" height="23.05" fill="#3d3187"/>
<rect x="276.83" y="564.84" width="21.55" height="23.05" fill="#433d90"/>
<rect x="298.38" y="564.84" width="21.55" height="23.05" fill="#474699"/>
<rect x="319.93" y="564.84" width="21.55" height="23.05" fill="#4957a6"/>
<rect x="341.47" y="564.84" width="21.55" height="23.05" fill="#4f6ebb"/>
<rect x="363.02" y="564.84" width="21.55" height="23.05" fill="#5480c8"/>
<rect x="384.57" y="564.84" width="21.55" height="23.05" fill="#568bc8"/>
<rect x="406.12" y="564.84" width="21.55" height="23.05" fill="#5794c3"/>
<rect x="427.67" y="564.84" width="21.55" height="23.05" fill="#5898b7"/>
<rect x="449.21" y="564.84" width="21.55" height="23.05" fill="#599ab1"/>
<rect x="470.76" y="564.84" width="21.55" height="23.05" fill="#5a9ab0"/>
<rect x="492.31" y="564.84" width="21.55" height="23.05" fill="#5a9ab0"/>
<rect x="513.86" y="564.84" width="21.55" height="23.05" fill="#5999b3"/>
<rect x="535.41" y="564.84" width="21.55" height="23.05" fill="#5897bc"/>
<rect x="556.95" y="564.84" width="21.55" height="23.05" fill="#5792c4"/>
<rect x="578.50" y="564.84" width="21.55" height="23.05" fill="#568bc8"/>
<rect x="600.05" y="564.84" width="21.55" height="23.05" fill="#5480c8"/>
<rect x="621.60" y="564.84" width="21.55" height="23.05" fill="#5174c0"/>
<rect x="643.15" y="564.84" width="21.55" height="23.05" fill="#4c62b0"/>
<rect x="664.69" y="564.84" width="21.55" height="23.05" fill="#4957a6"/>
<rect x="686.24" y="564.84" width="21.55" height="23.05" fill="#494e9f"/>
<rect x="707.79" y="564.84" width="21.55" height="23.05" fill="#484799"/>
<rect x="729.34" y="564.84" width="21.55" height="23.05" fill="#464395"/>
<rect x="750.89" y="564.84" width="21.55" height="23.05" fill="#443d91"/>
<rect x="772.43" y="564.84" width="21.55" height="23.05" fill="#40368b"/>
<rect x="793.98" y="564.84" width="21.55" height="23.05" fill="#3f3388"/>
<rect x="815.53" y="564.84" width="21.55" height="23.05" fill="#3d3086"/>
<rect x="837.08" y="564.84" width="21.55" height="23.05" fill="#3b2c83"/>
<rect x="858.63" y="564.84" width="21.55" height="23.05" fill="#392981"/>
<rect x="880.17" y="564.84" width="21.55" height="23.05" fill="#37277f"/>
<rect x="901.72" y="564.84" width="21.55" height="23.05" fill="#36247d"/>
<rect x="923.27" y="564.84" width="21.55" height="23.05" fill="#34217a"/>
<rect x="944.82" y="564.84" width="21.55" height="23.05" fill="#331f78"/>
<rect x="966.37" y="564.84" width="21.55" height="23.05" fill="#321d77"/>
<rect x="987.91" y="564.84" width="21.55" height="23.05" fill="#311b75"/>
<rect x="1009.46" y="564.84" width="21.55" height="23.05" fill="#301a74"/>
<rect x="1031.01" y="564.84" width="21.55" height="23.05" fill="#2f1873"/>
<rect x="1052.56" y="564.84" width="21.55" height="23.05" fill="#2f1872"/>
<rect x="1074.11" y="564.84" width="21.55" height="23.05" fill="#2f1872"/>
<rect x="1095.65" y="564.84" width="21.55" height="23.05" fill="#2f1872"/>
<rect x="1117.20" y="564.84" width="21.55" height="23.05" fill="#2f1872"/>
<rect x="1138.75" y="564.84" width="21.55" height="23.05" fill="#2f1872"/>
<rect x="1160.30" y="564.84" width="21.55" height="23.05" fill="#2f1872"/>
<rect x="1181.85" y="564.84" width="21.55" height="23.05" fill="#2f1872"/>
<rect x="1203.39" y="564.84" width="21.55" height="23.05" fill="#2f1872"/>
<rect x="1224.94" y="564.84" width="21.55" height="23.05" fill="#2f1872"/>
<rect x="1246.49" y="564.84" width="21.55" height="23.05" fill="#2f1872"/>
<rect x="1268.04" y="564.84" width="21.55" height="23.05" fill="#2f1872"/>
<rect x="1289.59" y="564.84" width="21.55" height="23.05" fill="#2f1872"/>
<rect x="1311.13" y="564.84" width="21.55" height="23.05" fill="#2f1872"/>
<rect x="1332.68" y="564.84" width="21.55" height="23.05" fill="#2f1872"/>
<rect x="1354.23" y="564.84" width="21.55" height="23.05" fill="#2f1872"/>
<rect x="1375.78" y="564.84" width="21.55" height="23.05" fill="#2f1872"/>
<rect x="1397.33" y="564.84" width="21.55" height="23.05" fill="#2f1872"/>
<rect x="1418.87" y="564.84" width="21.55" height="23.05" fill="#2f1872"/>
<rect x="82.90" y="587.89" width="21.55" height="23.05" fill="#2f1872"/>
<rect x="104.45" y="587.89" width="21.55" height="23.05" fill="#2f1872"/>
<rect x="125.99" y="587.89" width="21.55" height="23.05" fill="#2f1872"/>
<rect x="147.54" y="587.89" width="21.55" height="23.05" fill="#2f1873"/>
<rect x="169.09" y="587.89" width="21.55" height="23.05" fill="#311b75"/>
<rect x="190.64" y="587.89" width="21.55" height="23.05" fill="#332079"/>
<rect x="212.19" y="587.89" width="21.55" height="23.05" fill="#36247d"/>
<rect x="233.73" y="587.89" width="21.55" height="23.05" fill="#382981"/>
<rect x="255.28" y="587.89" width="21.55" height="23.05" fill="#3d3187"/>
<rect x="276.83" y="587.89" width="21.55" height="23.05" fill="#433d90"/>
<rect x="298.38" y="587.89" width="21.55" height="23.05" fill="#474699"/>
<rect x="319.93" y="587.89" width="21.55" height="23.05" fill="#4957a6"/>
<rect x="341.47" y="587.89" width="21.55" height="23.05" fill="#4f6ebb"/>
<rect x="363.02" y="587.89" width="21.55" height="23.05" fill="#5480c8"/>
<rect x="384.57" y="587.89" width="21.55" height="23.05" fill="#568bc8"/>
<rect x="406.12" y="587.89" width="21.55" height="23.05" fill="#5794c3"/>
<rect x="427.67" y="587.89" width="21.55" height="23.05" fill="#5898b7"/>
<rect x="449.21" y="587.89" width="21.55" height="23.05" fill="#599ab1"/>
<rect x="470.76" y="587.89" width="21.55" height="23.05" fill="#5a9ab0"/>
<rect x="492.31" y="587.89" width="21.55" height="23.05" fill="#5a9ab0"/>
<rect x="513.86" y="587.89" width="21.55" height="23.05" fill="#5999b3"/>
<rect x="535.41" y="587.89" width="21.55" height="23.05" fill="#5897bc"/>
<rect x="556.95" y="587.89" width="21.55" height="23.05" fill="#5792c4"/>
<rect x="578.50" y="587.89" width="21.55" height="23.05" fill="#568bc8"/>
<rect x="600.05" y="587.89" width="21.55" height="23.05" fill="#5480c8"/>
<rect x="621.60" y="587.89" width="21.55" height="23.05" fill="#5174c0"/>
<rect x="643.15" y="587.89" width="21.55" height="23.05" fill="#4c62b0"/>
<rect x="664.69" y="587.89" width="21.55" height="23.05" fill="#4957a6"/>
<rect x="686.24" y="587.89" width="21.55" height="23.05" fill="#494e9f"/>
<rect x="707.79" y="587.89" width="21.55" height="23.05" fill="#484799"/>
<rect x="729.34" y="587.89" width="21.55" height="23.05" fill="#464395"/>
<rect x="750.89" y="587.89" width="21.55" height="23.05" fill="#443d91"/>
<rect x="772.43" y="587.89" width="21.55" height="23.05" fill="#40368b"/>
<rect x="793.98" y="587.89" width="21.55" height="23.05" fill="#3f3388"/>
<rect x="815.53" y="587.89" width="21.55" height="23.05" fill="#3d3086"/>
<rect x="837.08" y="587.89" width="21.55" height="23.05" fill="#3b2c83"/>
<rect x="858.63" y="587.89" width="21.55" height="23.05" fill="#392981"/>
<rect x="880.17" y="587.89" width="21.55" height="23.05" fill="#37277f"/>
<rect x="901.72" y="587.89" width="21.55" height="23.05" fill="#36247d"/>
<rect x="923.27" y="587.89" width="21.55" height="23.05" fill="#34217a"/>
<rect x="944.82" y="587.89" width="21.55" height="23.05" fill="#331f78"/>
<rect x="966.37" y="587.89" width="21.55" height="23.05" fill="#321d77"/>
<rect x="987.91" y="587.89" width="21.55" height="23.05" fill="#311b75"/>
<rect x="1009.46" y="587.89" width="21.55" height="23.05" fill="#301a74"/>
<rect x="1031.01" y="587.89" width="21.55" height="23.05" fill="#2f1873"/>
<rect x="1052.56" y="587.89" width="21.55" height="23.05" fill="#2f1872"/>
<rect x="1074.11" y="587.89" width="21.55" height="23.05" fill="#2f1872"/>
<rect x="1095.65" y="587.89" width="21.55" height="23.05" fill="#2f1872"/>
<rect x="1117.20" y="587.89" width="21.55" height="23.05" fill="#2f1872"/>
<rect x="1138.75" y="587.89" width="21.55" height="23.05" fill="#2f1872"/>
<rect x="1160.30" y="587.89" width="21.55" height="23.05" fill="#2f1872"/>
<rect x="1181.85" y="587.89" width="21.55" height="23.05" fill="#2f1872"/>
<rect x="1203.39" y="587.89" width="21.55" height="23.05" fill="#2f1872"/>
<rect x="1224.94" y="587.89" width="21.55" height="23.05" fill="#2f1872"/>
<rect x="1246.49" y="587.89" width="21.55" height="23.05" fill="#2f1872"/>
<rect x="1268.04" y="587.89" width="21.55" height="23.05" fill="#2f1872"/>
<rect x="1289.59" y="587.89" width="21.55" height="23.05" fill="#2f1872"/>
<rect x="1311.13" y="587.89" width="21.55" height="23.05" fill="#2f1872"/>
<rect x="1332.68" y="587.89" width="21.55" height="23.05" fill="#2f1872"/>
<rect x="1354.23" y="587.89" width="21.55" height="23.05" fill="#2f1872"/>
<rect x="1375.78" y="587.89" width="21.55" height="23.05" fill="#2f1872"/>
<rect x="1397.33" y="587.89" width="21.55" height="23.05" fill="#2f1872"/>
<rect x="1418.87" y="587.89" width="21.55" height="23.05" fill="#2f1872"/>
<rect x="82.90" y="610.93" width="21.55" height="23.05" fill="#2f1872"/>
<rect x="104.45" y="610.93" width="21.55" height="23.05" fill="#2f1872"/>
<rect x="125.99" y="610.93" width="21.55" height="23.05" fill="#2f1872"/>
<rect x="147.54" y="610.93" width="21.55" height="23.05" fill="#2f1872"/>
<rect x="169.09" y="610.93" width="21.55" height="23.05" fill="#301a74"/>
<rect x="190.64" y="610.93" width="21.55" height="23.05" fill="#321e77"/>
<rect x="212.19" y="610.93" width="21.55" height="23.05" fill="#34217a"/>
<rect x="233.73" y="610.93" width="21.55" height="23.05" fill="#36257d"/>
<rect x="255.28" y="610.93" width="21.55" height="23.05" fill="#3a2b82"/>
<rect x="276.83" y="610.93" width="21.55" height="23.05" fill="#3f3489"/>
<rect x="298.38" y="610.93" width="21.55" height="23.05" fill="#433b8f"/>
<rect x="319.93" y="610.93" width="21.55" height="23.05" fill="#474598"/>
<rect x="341.47" y="610.93" width="21.55" height="23.05" fill="#4950a0"/>
<rect x="363.02" y="610.93" width="21.55" height="23.05" fill="#4a5aa8"/>
<rect x="384.57" y="610.93" width="21.55" height="23.05" fill="#4d68b5"/>
<rect x="406.12" y="610.93" width="21.55" height="23.05" fill="#5175c0"/>
<rect x="427.67" y="610.93" width="21.55" height="23.05" fill="#537cc5"/>
<rect x="449.21" y="610.93" width="21.55" height="23.05" fill="#5480c7"/>
<rect x="470.76" y="610.93" width="21.55" height="23.05" fill="#5480c8"/>
<rect x="492.31" y="610.93" width="21.55" height="23.05" fill="#5480c8"/>
<rect x="513.86" y="610.93" width="21.55" height="23.05" fill="#537ec6"/>
<rect x="535.41" y="610.93" width="21.55" height="23.05" fill="#527ac3"/>
<rect x="556.95" y="610.93" width="21.55" height="23.05" fill="#5173bf"/>
<rect x="578.50" y="610.93" width="21.55" height="23.05" fill="#4d68b5"/>
<rect x="600.05" y="610.93" width="21.55" height="23.05" fill="#4a5aa8"/>
<rect x="621.60" y="610.93" width="21.55" height="23.05" fill="#4953a3"/>
<rect x="643.15" y="610.93" width="21.55" height="23.05" fill="#484b9c"/>
<rect x="664.69" y="610.93" width="21.55" height="23.05" fill="#474598"/>
<rect x="686.24" y="610.93" width="21.55" height="23.05" fill="#454093"/>
<rect x="707.79" y="610.93" width="21.55" height="23.05" fill="#433c90"/>
<rect x="729.34" y="610.93" width="21.55" height="23.05" fill="#41388d"/>
<rect x="750.89" y="610.93" width="21.55" height="23.05" fill="#403489"/>
<rect x="772.43" y="610.93" width="21.55" height="23.05" fill="#3c2f86"/>
<rect x="793.98" y="610.93" width="21.55" height="23.05" fill="#3b2d84"/>
<rect x="815.53" y="610.93" width="21.55" height="23.05" fill="#392a82"/>
<rect x="837.08" y="610.93" width="21.55" height="23.05" fill="#382880"/>
<rect x="858.63" y="610.93" width="21.55" height="23.05" fill="#36257d"/>
<rect x="880.17" y="610.93" width="21.55" height="23.05" fill="#35237c"/>
<rect x="901.72" y="610.93" width="21.55" height="23.05" fill="#34217a"/>
<rect x="923.27" y="610.93" width="21.55" height="23.05" fill="#331f78"/>
<rect x="944.82" y="610.93" width="21.55" height="23.05" fill="#321d77"/>
<rect x="966.37" y="610.93" width="21.55" height="23.05" fill="#311b75"/>
<rect x="987.91" y="610.93" width="21.55" height="23.05" fill="#301a74"/>
<rect x="1009.46" y="610.93" width="21.55" height="23.05" fill="#2f1973"/>
<rect x="1031.01" y="610.93" width="21.55" height="23.05" fill="#2f1873"/>
<rect x="1052.56" y="610.93" width="21.55" height="23.05" fill="#2f1872"/>
<rect x="1074.11" y="610.93" width="21.55" height="23.05" fill="#2f1872"/>
<rect x="1095.65" y="610.93" width="21.55" height="23.05" fill="#2f1872"/>
<rect x="1117.20" y="610.93" width="21.55" height="23.05" fill="#2f1872"/>
<rect x="1138.75" y="610.93" width="21.55" height="23.05" fill="#2f1872"/>
<rect x="1160.30" y="610.93" width="21.55" height="23.05" fill="#2f1872"/>
<rect x="1181.85" y="610.93" width="21.55" height="23.05" fill="#2f1872"/>
<rect x="1203.39" y="610.93" width="21.55" height="23.05" fill="#2f1872"/>
<rect x="1224.94" y="610.93" width="21.55" height="23.05" fill="#2f1872"/>
<rect x="1246.49" y="610.93" width="21.55" height="23.05" fill="#2f1872"/>
<rect x="1268.04" y="610.93" width="21.55" height="23.05" fill="#2f1872"/>
<rect x="1289.59" y="610.93" width="21.55" height="23.05" fill="#2f1872"/>
<rect x="1311.13" y="610.93" width="21.55" height="23.05" fill="#2f1872"/>
<rect x="1332.68" y="610.93" width="21.55" height="23.05" fill="#2f1872"/>
<rect x="1354.23" y="610.93" width="21.55" height="23.05" fill="#2f1872"/>
<rect x="1375.78" y="610.93" width="21.55" height="23.05" fill="#2f1872"/>
<rect x="1397.33" y="610.93" width="21.55" height="23.05" fill="#2f1872"/>
<rect x="1418.87" y="610.93" width="21.55" height="23.05" fill="#2f1872"/>
<rect x="82.90" y="633.98" width="21.55" height="23.05" fill="#2f1872"/>
<rect x="104.45" y="633.98" width="21.55" height="23.05" fill="#2f1872"/>
<rect x="125.99" y="633.98" width="21.55" height="23.05" fill="#2f1872"/>
<rect x="147.54" y="633.98" width="21.55" height="23.05" fill="#2f1872"/>
<rect x="169.09" y="633.98" width="21.55" height="23.05" fill="#301974"/>
<rect x="190.64" y="633.98" width="21.55" height="23.05" fill="#321d77"/>
<rect x="212.19" y="633.98" width="21.55" height="23.05" fill="#332079"/>
<rect x="233.73" y="633.98" width="21.55" height="23.05" fill="#35237c"/>
<rect x="255.28" y="633.98" width="21.55" height="23.05" fill="#382981"/>
<rect x="276.83" y="633.98" width="21.55" height="23.05" fill="#3d3086"/>
<rect x="298.38" y="633.98" width="21.55" height="23.05" fill="#41368b"/>
<rect x="319.93" y="633.98" width="21.55" height="23.05" fill="#443f93"/>
<rect x="341.47" y="633.98" width="21.55" height="23.05" fill="#484799"/>
<rect x="363.02" y="633.98" width="21.55" height="23.05" fill="#494fa0"/>
<rect x="384.57" y="633.98" width="21.55" height="23.05" fill="#4957a6"/>
<rect x="406.12" y="633.98" width="21.55" height="23.05" fill="#4b60ae"/>
<rect x="427.67" y="633.98" width="21.55" height="23.05" fill="#4e68b5"/>
<rect x="449.21" y="633.98" width="21.55" height="23.05" fill="#4f6cb9"/>
<rect x="470.76" y="633.98" width="21.55" height="23.05" fill="#4f6dba"/>
<rect x="492.31" y="633.98" width="21.55" height="23.05" fill="#4f6dba"/>
<rect x="513.86" y="633.98" width="21.55" height="23.05" fill="#4e6bb8"/>
<rect x="535.41" y="633.98" width="21.55" height="23.05" fill="#4d65b3"/>
<rect x="556.95" y="633.98" width="21.55" height="23.05" fill="#4a5dab"/>
<rect x="578.50" y="633.98" width="21.55" height="23.05" fill="#4957a6"/>
<rect x="600.05" y="633.98" width="21.55" height="23.05" fill="#494fa0"/>
<rect x="621.60" y="633.98" width="21.55" height="23.05" fill="#48499b"/>
<rect x="643.15" y="633.98" width="21.55" height="23.05" fill="#464496"/>
<rect x="664.69" y="633.98" width="21.55" height="23.05" fill="#443f93"/>
<rect x="686.24" y="633.98" width="21.55" height="23.05" fill="#423b8f"/>
<rect x="707.79" y="633.98" width="21.55" height="23.05" fill="#41378c"/>
<rect x="729.34" y="633.98" width="21.55" height="23.05" fill="#3f3489"/>
<rect x="750.89" y="633.98" width="21.55" height="23.05" fill="#3d3187"/>
<rect x="772.43" y="633.98" width="21.55" height="23.05" fill="#3b2c83"/>
<rect x="793.98" y="633.98" width="21.55" height="23.05" fill="#392a82"/>
<rect x="815.53" y="633.98" width="21.55" height="23.05" fill="#382880"/>
<rect x="837.08" y="633.98" width="21.55" height="23.05" fill="#37267e"/>
<rect x="858.63" y="633.98" width="21.55" height="23.05" fill="#35237c"/>
<rect x="880.17" y="633.98" width="21.55" height="23.05" fill="#34217a"/>
<rect x="901.72" y="633.98" width="21.55" height="23.05" fill="#331f79"/>
<rect x="923.27" y="633.98" width="21.55" height="23.05" fill="#321e77"/>
<rect x="944.82" y="633.98" width="21.55" height="23.05" fill="#311c76"/>
<rect x="966.37" y="633.98" width="21.55" height="23.05" fill="#311b75"/>
<rect x="987.91" y="633.98" width="21.55" height="23.05" fill="#301974"/>
<rect x="1009.46" y="633.98" width="21.55" height="23.05" fill="#2f1873"/>
<rect x="1031.01" y="633.98" width="21.55" height="23.05" fill="#2f1872"/>
<rect x="1052.56" y="633.98" width="21.55" height="23.05" fill="#2f1872"/>
<rect x="1074.11" y="633.98" width="21.55" height="23.05" fill="#2f1872"/>
<rect x="1095.65" y="633.98" width="21.55" height="23.05" fill="#2f1872"/>
<rect x="1117.20" y="633.98" width="21.55" height="23.05" fill="#2f1872"/>
<rect x="1138.75" y="633.98" width="21.55" height="23.05" fill="#2f1872"/>
<rect x="1160.30" y="633.98" width="21.55" height="23.05" fill="#2f1872"/>
<rect x="1181.85" y="633.98" width="21.55" height="23.05" fill="#2f1872"/>
<rect x="1203.39" y="633.98" width="21.55" height="23.05" fill="#2f1872"/>
<rect x="1224.94" y="633.98" width="21.55" height="23.05" fill="#2f1872"/>
<rect x="1246.49" y="633.98" width="21.55" height="23.05" fill="#2f1872"/>
<rect x="1268.04" y="633.98" width="21.55" height="23.05" fill="#2f1872"/>
<rect x="1289.59" y="633.98" width="21.55" height="23.05" fill="#2f1872"/>
<rect x="1311.13" y="633.98" width="21.55" height="23.05" fill="#2f1872"/>
<rect x="1332.68" y="633.98" width="21.55" height="23.05" fill="#2f1872"/>
<rect x="1354.23" y="633.98" width="21.55" height="23.05" fill="#2f1872"/>
<rect x="1375.78" y="633.98" width="21.55" height="23.05" fill="#2f1872"/>
<rect x="1397.33" y="633.98" width="21.55" height="23.05" fill="#2f1872"/>
<rect x="1418.87" y="633.98" width="21.55" height="23.05" fill="#2f1872"/>
<rect x="82.90" y="657.02" width="21.55" height="23.05" fill="#2f1872"/>
<rect x="104.45" y="657.02" width="21.55" height="23.05" fill="#2f1872"/>
<rect x="125.99" y="657.02" width="21.55" height="23.05" fill="#2f1872"/>
<rect x="147.54" y="657.02" width="21.55" height="23.05" fill="#2f1873"/>
<rect x="169.09" y="657.02" width="21.55" height="23.05" fill="#311c76"/>
<rect x="190.64" y="657.02" width="21.55" height="23.05" fill="#34217a"/>
<rect x="212.19" y="657.02" width="21.55" height="23.05" fill="#37267e"/>
<rect x="233.73" y="657.02" width="21.55" height="23.05" fill="#392a82"/>
<rect x="255.28" y="657.02" width="21.55" height="23.05" fill="#3f3388"/>
<rect x="276.83" y="657.02" width="21.55" height="23.05" fill="#454194"/>
<rect x="298.38" y="657.02" width="21.55" height="23.05" fill="#484c9d"/>
<rect x="319.93" y="657.02" width="21.55" height="23.05" fill="#4c61af"/>
<rect x="341.47" y="657.02" width="21.55" height="23.05" fill="#537cc5"/>
<rect x="363.02" y="657.02" width="21.55" height="23.05" fill="#568bc8"/>
<rect x="384.57" y="657.02" width="21.55" height="23.05" fill="#5795c2"/>
<rect x="406.12" y="657.02" width="21.55" height="23.05" fill="#5a9bab"/>
<rect x="427.67" y="657.02" width="21.55" height="23.05" fill="#5a9e9f"/>
<rect x="449.21" y="657.02" width="21.55" height="23.05" fill="#5ba099"/>
<rect x="470.76" y="657.02" width="21.55" height="23.05" fill="#5ba098"/>
<rect x="492.31" y="657.02" width="21.55" height="23.05" fill="#5ba098"/>
<rect x="513.86" y="657.02" width="21.55" height="23.05" fill="#5ba09b"/>
<rect x="535.41" y="657.02" width="21.55" height="23.05" fill="#5a9da3"/>
<rect x="556.95" y="657.02" width="21.55" height="23.05" fill="#5a9ab0"/>
<rect x="578.50" y="657.02" width="21.55" height="23.05" fill="#5795c2"/>
<rect x="600.05" y="657.02" width="21.55" height="23.05" fill="#568bc8"/>
<rect x="621.60" y="657.02" width="21.55" height="23.05" fill="#5482c9"/>
<rect x="643.15" y="657.02" width="21.55" height="23.05" fill="#5072be"/>
<rect x="664.69" y="657.02" width="21.55" height="23.05" fill="#4c61af"/>
<rect x="686.24" y="657.02" width="21.55" height="23.05" fill="#4956a5"/>
<rect x="707.79" y="657.02" width="21.55" height="23.05" fill="#494d9e"/>
<rect x="729.34" y="657.02" width="21.55" height="23.05" fill="#484799"/>
<rect x="750.89" y="657.02" width="21.55" height="23.05" fill="#454194"/>
<rect x="772.43" y="657.02" width="21.55" height="23.05" fill="#42398e"/>
<rect x="793.98" y="657.02" width="21.55" height="23.05" fill="#40358a"/>
<rect x="815.53" y="657.02" width="21.55" height="23.05" fill="#3e3288"/>
<rect x="837.08" y="657.02" width="21.55" height="23.05" fill="#3c2e85"/>
<rect x="858.63" y="657.02" width="21.55" height="23.05" fill="#3a2b82"/>
<rect x="880.17" y="657.02" width="21.55" height="23.05" fill="#382880"/>
<rect x="901.72" y="657.02" width="21.55" height="23.05" fill="#36257e"/>
<rect x="923.27" y="657.02" width="21.55" height="23.05" fill="#35227b"/>
<rect x="944.82" y="657.02" width="21.55" height="23.05" fill="#332079"/>
<rect x="966.37" y="657.02" width="21.55" height="23.05" fill="#321d77"/>
<rect x="987.91" y="657.02" width="21.55" height="23.05" fill="#311b76"/>
<rect x="1009.46" y="657.02" width="21.55" height="23.05" fill="#301a74"/>
<rect x="1031.01" y="657.02" width="21.55" height="23.05" fill="#301973"/>
<rect x="1052.56" y="657.02" width="21.55" height="23.05" fill="#2f1873"/>
<rect x="1074.11" y="657.02" width="21.55" height="23.05" fill="#2f1872"/>
<rect x="1095.65" y="657.02" width="21.55" height="23.05" fill="#2f1872"/>
<rect x="1117.20" y="657.02" width="21.55" height="23.05" fill="#2f1872"/>
<rect x="1138.75" y="657.02" width="21.55" height="23.05" fill="#2f1872"/>
<rect x="1160.30" y="657.02" width="21.55" height="23.05" fill="#2f1872"/>
<rect x="1181.85" y="657.02" width="21.55" height="23.05" fill="#2f1872"/>
<rect x="1203.39" y="657.02" width="21.55" height="23.05" fill="#2f1872"/>
<rect x="1224.94" y="657.02" width="21.55" height="23.05" fill="#2f1872"/>
<rect x="1246.49" y="657.02" width="21.55" height="23.05" fill="#2f1872"/>
<rect x="1268.04" y="657.02" width="21.55" height="23.05" fill="#2f1872"/>
<rect x="1289.59" y="657.02" width="21.55" height="23.05" fill="#2f1872"/>
<rect x="1311.13" y="657.02" width="21.55" height="23.05" fill="#2f1872"/>
<rect x="1332.68" y="657.02" width="21.55" height="23.05" fill="#2f1872"/>
<rect x="1354.23" y="657.02" width="21.55" height="23.05" fill="#2f1872"/>
<rect x="1375.78" y="657.02" width="21.55" height="23.05" fill="#2f1872"/>
<rect x="1397.33" y="657.02" width="21.55" height="23.05" fill="#2f1872"/>
<rect x="1418.87" y="657.02" width="21.55" height="23.05" fill="#2f1872"/>
<rect x="82.90" y="680.07" width="21.55" height="23.05" fill="#2f1872"/>
<rect x="104.45" y="680.07" width="21.55" height="23.05" fill="#2f1872"/>
<rect x="125.99" y="680.07" width="21.55" height="23.05" fill="#2f1872"/>
<rect x="147.54" y="680.07" width="21.55" height="23.05" fill="#2f1872"/>
<rect x="169.09" y="680.07" width="21.55" height="23.05" fill="#301a74"/>
<rect x="190.64" y="680.07" width="21.55" height="23.05" fill="#321e78"/>
<rect x="212.19" y="680.07" width="21.55" height="23.05" fill="#34227b"/>
<rect x="233.73" y="680.07" width="21.55" height="23.05" fill="#36257e"/>
<rect x="255.28" y="680.07" width="21.55" height="23.05" fill="#3a2c83"/>
<rect x="276.83" y="680.07" width="21.55" height="23.05" fill="#40358a"/>
<rect x="298.38" y="680.07" width="21.55" height="23.05" fill="#433d90"/>
<rect x="319.93" y="680.07" width="21.55" height="23.05" fill="#484799"/>
<rect x="341.47" y="680.07" width="21.55" height="23.05" fill="#4953a3"/>
<rect x="363.02" y="680.07" width="21.55" height="23.05" fill="#4b5fad"/>
<rect x="384.57" y="680.07" width="21.55" height="23.05" fill="#506fbc"/>
<rect x="406.12" y="680.07" width="21.55" height="23.05" fill="#537bc4"/>
<rect x="427.67" y="680.07" width="21.55" height="23.05" fill="#5482c9"/>
<rect x="449.21" y="680.07" width="21.55" height="23.05" fill="#5585cb"/>
<rect x="470.76" y="680.07" width="21.55" height="23.05" fill="#5586cb"/>
<rect x="492.31" y="680.07" width="21.55" height="23.05" fill="#5586cb"/>
<rect x="513.86" y="680.07" width="21.55" height="23.05" fill="#5584cb"/>
<rect x="535.41" y="680.07" width="21.55" height="23.05" fill="#5480c7"/>
<rect x="556.95" y="680.07" width="21.55" height="23.05" fill="#5278c3"/>
<rect x="578.50" y="680.07" width="21.55" height="23.05" fill="#506fbc"/>
<rect x="600.05" y="680.07" width="21.55" height="23.05" fill="#4b5fad"/>
<rect x="621.60" y="680.07" width="21.55" height="23.05" fill="#4957a6"/>
<rect x="643.15" y="680.07" width="21.55" height="23.05" fill="#494e9f"/>
<rect x="664.69" y="680.07" width="21.55" height="23.05" fill="#484799"/>
<rect x="686.24" y="680.07" width="21.55" height="23.05" fill="#454295"/>
<rect x="707.79" y="680.07" width="21.55" height="23.05" fill="#443d91"/>
<rect x="729.34" y="680.07" width="21.55" height="23.05" fill="#423a8e"/>
<rect x="750.89" y="680.07" width="21.55" height="23.05" fill="#40358a"/>
<rect x="772.43" y="680.07" width="21.55" height="23.05" fill="#3d3086"/>
<rect x="793.98" y="680.07" width="21.55" height="23.05" fill="#3b2e84"/>
<rect x="815.53" y="680.07" width="21.55" height="23.05" fill="#3a2b82"/>
<rect x="837.08" y="680.07" width="21.55" height="23.05" fill="#382880"/>
<rect x="858.63" y="680.07" width="21.55" height="23.05" fill="#37267e"/>
<rect x="880.17" y="680.07" width="21.55" height="23.05" fill="#36247c"/>
<rect x="901.72" y="680.07" width="21.55" height="23.05" fill="#34217a"/>
<rect x="923.27" y="680.07" width="21.55" height="23.05" fill="#331f79"/>
<rect x="944.82" y="680.07" width="21.55" height="23.05" fill="#321d77"/>
<rect x="966.37" y="680.07" width="21.55" height="23.05" fill="#311b76"/>
<rect x="987.91" y="680.07" width="21.55" height="23.05" fill="#301a74"/>
<rect x="1009.46" y="680.07" width="21.55" height="23.05" fill="#301973"/>
<rect x="1031.01" y="680.07" width="21.55" height="23.05" fill="#2f1873"/>
<rect x="1052.56" y="680.07" width="21.55" height="23.05" fill="#2f1872"/>
<rect x="1074.11" y="680.07" width="21.55" height="23.05" fill="#2f1872"/>
<rect x="1095.65" y="680.07" width="21.55" height="23.05" fill="#2f1872"/>
<rect x="1117.20" y="680.07" width="21.55" height="23.05" fill="#2f1872"/>
<rect x="1138.75" y="680.07" width="21.55" height="23.05" fill="#2f1872"/>
<rect x="1160.30" y="680.07" width="21.55" height="23.05" fill="#2f1872"/>
<rect x="1181.85" y="680.07" width="21.55" height="23.05" fill="#2f1872"/>
<rect x="1203.39" y="680.07" width="21.55" height="23.05" fill="#2f1872"/>
<rect x="1224.94" y="680.07" width="21.55" height="23.05" fill="#2f1872"/>
<rect x="1246.49" y="680.07" width="21.55" height="23.05" fill="#2f1872"/>
<rect x="1268.04" y="680.07" width="21.55" height="23.05" fill="#2f1872"/>
<rect x="1289.59" y="680.07" width="21.55" height="23.05" fill="#2f1872"/>
<rect x="1311.13" y="680.07" width="21.55" height="23.05" fill="#2f1872"/>
<rect x="1332.68" y="680.07" width="21.55" height="23.05" fill="#2f1872"/>
<rect x="1354.23" y="680.07" width="21.55" height="23.05" fill="#2f1872"/>
<rect x="1375.78" y="680.07" width="21.55" height="23.05" fill="#2f1872"/>
<rect x="1397.33" y="680.07" width="21.55" height="23.05" fill="#2f1872"/>
<rect x="1418.87" y="680.07" width="21.55" height="23.05" fill="#2f1872"/>
<rect x="82.90" y="703.11" width="21.55" height="23.05" fill="#2f1872"/>
<rect x="104.45" y="703.11" width="21.55" height="23.05" fill="#2f1872"/>
<rect x="125.99" y="703.11" width="21.55" height="23.05" fill="#2f1872"/>
<rect x="147.54" y="703.11" width="21.55" height="23.05" fill="#2f1872"/>
<rect x="169.09" y="703.11" width="21.55" height="23.05" fill="#2f1873"/>
<rect x="190.64" y="703.11" width="21.55" height="23.05" fill="#301a75"/>
<rect x="212.19" y="703.11" width="21.55" height="23.05" fill="#321d76"/>
<rect x="233.73" y="703.11" width="21.55" height="23.05" fill="#331f78"/>
<rect x="255.28" y="703.11" width="21.55" height="23.05" fill="#35237c"/>
<rect x="276.83" y="703.11" width="21.55" height="23.05" fill="#382880"/>
<rect x="298.38" y="703.11" width="21.55" height="23.05" fill="#3b2c83"/>
<rect x="319.93" y="703.11" width="21.55" height="23.05" fill="#3e3287"/>
<rect x="341.47" y="703.11" width="21.55" height="23.05" fill="#41368b"/>
<rect x="363.02" y="703.11" width="21.55" height="23.05" fill="#423b8f"/>
<rect x="384.57" y="703.11" width="21.55" height="23.05" fill="#443f92"/>
<rect x="406.12" y="703.11" width="21.55" height="23.05" fill="#464295"/>
<rect x="427.67" y="703.11" width="21.55" height="23.05" fill="#474597"/>
<rect x="449.21" y="703.11" width="21.55" height="23.05" fill="#474698"/>
<rect x="470.76" y="703.11" width="21.55" height="23.05" fill="#474698"/>
<rect x="492.31" y="703.11" width="21.55" height="23.05" fill="#474698"/>
<rect x="513.86" y="703.11" width="21.55" height="23.05" fill="#474598"/>
<rect x="535.41" y="703.11" width="21.55" height="23.05" fill="#464497"/>
<rect x="556.95" y="703.11" width="21.55" height="23.05" fill="#454295"/>
<rect x="578.50" y="703.11" width="21.55" height="23.05" fill="#443f92"/>
<rect x="600.05" y="703.11" width="21.55" height="23.05" fill="#423b8f"/>
<rect x="621.60" y="703.11" width="21.55" height="23.05" fill="#41388c"/>
<rect x="643.15" y="703.11" width="21.55" height="23.05" fill="#403489"/>
<rect x="664.69" y="703.11" width="21.55" height="23.05" fill="#3e3287"/>
<rect x="686.24" y="703.11" width="21.55" height="23.05" fill="#3c2f85"/>
<rect x="707.79" y="703.11" width="21.55" height="23.05" fill="#3b2d84"/>
<rect x="729.34" y="703.11" width="21.55" height="23.05" fill="#3a2b82"/>
<rect x="750.89" y="703.11" width="21.55" height="23.05" fill="#382981"/>
<rect x="772.43" y="703.11" width="21.55" height="23.05" fill="#37257e"/>
<rect x="793.98" y="703.11" width="21.55" height="23.05" fill="#36247d"/>
<rect x="815.53" y="703.11" width="21.55" height="23.05" fill="#35227b"/>
<rect x="837.08" y="703.11" width="21.55" height="23.05" fill="#34207a"/>
<rect x="858.63" y="703.11" width="21.55" height="23.05" fill="#331f78"/>
<rect x="880.17" y="703.11" width="21.55" height="23.05" fill="#321e77"/>
<rect x="901.72" y="703.11" width="21.55" height="23.05" fill="#311c76"/>
<rect x="923.27" y="703.11" width="21.55" height="23.05" fill="#311b75"/>
<rect x="944.82" y="703.11" width="21.55" height="23.05" fill="#301a74"/>
<rect x="966.37" y="703.11" width="21.55" height="23.05" fill="#301973"/>
<rect x="987.91" y="703.11" width="21.55" height="23.05" fill="#2f1873"/>
<rect x="1009.46" y="703.11" width="21.55" height="23.05" fill="#2f1872"/>
<rect x="1031.01" y="703.11" width="21.55" height="23.05" fill="#2f1872"/>
<rect x="1052.56" y="703.11" width="21.55" height="23.05" fill="#2f1872"/>
<rect x="1074.11" y="703.11" width="21.55" height="23.05" fill="#2f1872"/>
<rect x="1095.65" y="703.11" width="21.55" height="23.05" fill="#2f1872"/>
<rect x="1117.20" y="703.11" width="21.55" height="23.05" fill="#2f1872"/>
<rect x="1138.75" y="703.11" width="21.55" height="23.05" fill="#2f1872"/>
<rect x="1160.30" y="703.11" width="21.55" height="23.05" fill="#2f1872"/>
<rect x="1181.85" y="703.11" width="21.55" height="23.05" fill="#2f1872"/>
<rect x="1203.39" y="703.11" width="21.55" height="23.05" fill="#2f1872"/>
<rect x="1224.94" y="703.11" width="21.55" height="23.05" fill="#2f1872"/>
<rect x="1246.49" y="703.11" width="21.55" height="23.05" fill="#2f1872"/>
<rect x="1268.04" y="703.11" width="21.55" height="23.05" fill="#2f1872"/>
<rect x="1289.59" y="703.11" width="21.55" height="23.05" fill="#2f1872"/>
<rect x="1311.13" y="703.11" width="21.55" height="23.05" fill="#2f1872"/>
<rect x="1332.68" y="703.11" width="21.55" height="23.05" fill="#2f1872"/>
<rect x="1354.23" y="703.11" width="21.55" height="23.05" fill="#2f1872"/>
<rect x="1375.78" y="703.11" width="21.55" height="23.05" fill="#2f1872"/>
<rect x="1397.33" y="703.11" width="21.55" height="23.05" fill="#2f1872"/>
<rect x="1418.87" y="703.11" width="21.55" height="23.05" fill="#2f1872"/>
<rect x="82.90" y="726.16" width="21.55" height="23.05" fill="#2f1872"/>
<rect x="104.45" y="726.16" width="21.55" height="23.05" fill="#2f1872"/>
<rect x="125.99" y="726.16" width="21.55" height="23.05" fill="#2f1872"/>
<rect x="147.54" y="726.16" width="21.55" height="23.05" fill="#2f1872"/>
<rect x="169.09" y="726.16" width="21.55" height="23.05" fill="#301a74"/>
<rect x="190.64" y="726.16" width="21.55" height="23.05" fill="#321e78"/>
<rect x="212.19" y="726.16" width="21.55" height="23.05" fill="#34227b"/>
<rect x="233.73" y="726.16" width="21.55" height="23.05" fill="#36257e"/>
<rect x="255.28" y="726.16" width="21.55" height="23.05" fill="#3a2c83"/>
<rect x="276.83" y="726.16" width="21.55" height="23.05" fill="#40358a"/>
<rect x="298.38" y="726.16" width="21.55" height="23.05" fill="#433d90"/>
<rect x="319.93" y="726.16" width="21.55" height="23.05" fill="#484799"/>
<rect x="341.47" y="726.16" width="21.55" height="23.05" fill="#4953a3"/>
<rect x="363.02" y="726.16" width="21.55" height="23.05" fill="#4b5fad"/>
<rect x="384.57" y="726.16" width="21.55" height="23.05" fill="#506fbc"/>
<rect x="406.12" y="726.16" width="21.55" height="23.05" fill="#537bc4"/>
<rect x="427.67" y="726.16" width="21.55" height="23.05" fill="#5482c9"/>
<rect x="449.21" y="726.16" width="21.55" height="23.05" fill="#5585cb"/>
<rect x="470.76" y="726.16" width="21.55" height="23.05" fill="#5586cb"/>
<rect x="492.31" y="726.16" width="21.55" height="23.05" fill="#5586cb"/>
<rect x="513.86" y="726.16" width="21.55" height="23.05" fill="#5584cb"/>
<rect x="535.41" y="726.16" width="21.55" height="23.05" fill="#5480c7"/>
<rect x="556.95" y="726.16" width="21.55" height="23.05" fill="#5278c3"/>
<rect x="578.50" y="726.16" width="21.55" height="23.05" fill="#506fbc"/>
<rect x="600.05" y="726.16" width="21.55" height="23.05" fill="#4b5fad"/>
<rect x="621.60" y="726.16" width="21.55" height="23.05" fill="#4957a6"/>
<rect x="643.15" y="726.16" width="21.55" height="23.05" fill="#494e9f"/>
<rect x="664.69" y="726.16" width="21.55" height="23.05" fill="#484799"/>
<rect x="686.24" y="726.16" width="21.55" height="23.05" fill="#454295"/>
<rect x="707.79" y="726.16" width="21.55" height="23.05" fill="#443d91"/>
<rect x="729.34" y="726.16" width="21.55" height="23.05" fill="#423a8e"/>
<rect x="750.89" y="726.16" width="21.55" height="23.05" fill="#40358a"/>
<rect x="772.43" y="726.16" width="21.55" height="23.05" fill="#3d3086"/>
<rect x="793.98" y="726.16" width="21.55" height="23.05" fill="#3b2e84"/>
<rect x="815.53" y="726.16" width="21.55" height="23.05" fill="#3a2b82"/>
<rect x="837.08" y="726.16" width="21.55" height="23.05" fill="#382880"/>
<rect x="858.63" y="726.16" width="21.55" height="23.05" fill="#37267e"/>
<rect x="880.17" y="726.16" width="21.55" height="23.05" fill="#36247c"/>
<rect x="901.72" y="726.16" width="21.55" height="23.05" fill="#34217a"/>
<rect x="923.27" y="726.16" width="21.55" height="23.05" fill="#331f79"/>
<rect x="944.82" y="726.16" width="21.55" height="23.05" fill="#321d77"/>
<rect x="966.37" y="726.16" width="21.55" height="23.05" fill="#311b76"/>
<rect x="987.91" y="726.16" width="21.55" height="23.05" fill="#301a74"/>
<rect x="1009.46" y="726.16" width="21.55" height="23.05" fill="#301973"/>
<rect x="1031.01" y="726.16" width="21.55" height="23.05" fill="#2f1873"/>
<rect x="1052.56" y="726.16" width="21.55" height="23.05" fill="#2f1872"/>
<rect x="1074.11" y="726.16" width="21.55" height="23.05" fill="#2f1872"/>
<rect x="1095.65" y="726.16" width="21.55" height="23.05" fill="#2f1872"/>
<rect x="1117.20" y="726.16" width="21.55" height="23.05" fill="#2f1872"/>
<rect x="1138.75" y="726.16" width="21.55" height="23.05" fill="#2f1872"/>
<rect x="1160.30" y="726.16" width="21.55" height="23.05" fill="#2f1872"/>
<rect x="1181.85" y="726.16" width="21.55" height="23.05" fill="#2f1872"/>
<rect x="1203.39" y="726.16" width="21.55" height="23.05" fill="#2f1872"/>
<rect x="1224.94" y="726.16" width="21.55" height="23.05" fill="#2f1872"/>
<rect x="1246.49" y="726.16" width="21.55" height="23.05" fill="#2f1872"/>
<rect x="1268.04" y="726.16" width="21.55" height="23.05" fill="#2f1872"/>
<rect x="1289.59" y="726.16" width="21.55" height="23.05" fill="#2f1872"/>
<rect x="1311.13" y="726.16" width="21.55" height="23.05" fill="#2f1872"/>
<rect x="1332.68" y="726.16" width="21.55" height="23.05" fill="#2f1872"/>
<rect x="1354.23" y="726.16" width="21.55" height="23.05" fill="#2f1872"/>
<rect x="1375.78" y="726.16" width="21.55" height="23.05" fill="#2f1872"/>
<rect x="1397.33" y="726.16" width="21.55" height="23.05" fill="#2f1872"/>
<rect x="1418.87" y="726.16" width="21.55" height="23.05" fill="#2f1872"/>
<rect x="82.90" y="749.20" width="21.55" height="23.05" fill="#2f1872"/>
<rect x="104.45" y="749.20" width="21.55" height="23.05" fill="#2f1872"/>
<rect x="125.99" y="749.20" width="21.55" height="23.05" fill="#2f1872"/>
<rect x="147.54" y="749.20" width="21.55" height="23.05" fill="#2f1872"/>
<rect x="169.09" y="749.20" width="21.55" height="23.05" fill="#2f1873"/>
<rect x="190.64" y="749.20" width="21.55" height="23.05" fill="#301a74"/>
<rect x="212.19" y="749.20" width="21.55" height="23.05" fill="#311c76"/>
<rect x="233.73" y="749.20" width="21.55" height="23.05" fill="#321d77"/>
<rect x="255.28" y="749.20" width="21.55" height="23.05" fill="#34217a"/>
<rect x="276.83" y="749.20" width="21.55" height="23.05" fill="#37267e"/>
<rect x="298.38" y="749.20" width="21.55" height="23.05" fill="#392a81"/>
<rect x="319.93" y="749.20" width="21.55" height="23.05" fill="#3c2e85"/>
<rect x="341.47" y="749.20" width="21.55" height="23.05" fill="#3e3288"/>
<rect x="363.02" y="749.20" width="21.55" height="23.05" fill="#40368a"/>
<rect x="384.57" y="749.20" width="21.55" height="23.05" fill="#42398d"/>
<rect x="406.12" y="749.20" width="21.55" height="23.05" fill="#433c90"/>
<rect x="427.67" y="749.20" width="21.55" height="23.05" fill="#443e92"/>
<rect x="449.21" y="749.20" width="21.55" height="23.05" fill="#443f92"/>
<rect x="470.76" y="749.20" width="21.55" height="23.05" fill="#443f93"/>
<rect x="492.31" y="749.20" width="21.55" height="23.05" fill="#443f93"/>
<rect x="513.86" y="749.20" width="21.55" height="23.05" fill="#443f92"/>
<rect x="535.41" y="749.20" width="21.55" height="23.05" fill="#443d91"/>
<rect x="556.95" y="749.20" width="21.55" height="23.05" fill="#433b8f"/>
<rect x="578.50" y="749.20" width="21.55" height="23.05" fill="#42398d"/>
<rect x="600.05" y="749.20" width="21.55" height="23.05" fill="#40368a"/>
<rect x="621.60" y="749.20" width="21.55" height="23.05" fill="#3f3389"/>
<rect x="643.15" y="749.20" width="21.55" height="23.05" fill="#3d3086"/>
<rect x="664.69" y="749.20" width="21.55" height="23.05" fill="#3c2e85"/>
<rect x="686.24" y="749.20" width="21.55" height="23.05" fill="#3a2c83"/>
<rect x="707.79" y="749.20" width="21.55" height="23.05" fill="#392a81"/>
<rect x="729.34" y="749.20" width="21.55" height="23.05" fill="#382880"/>
<rect x="750.89" y="749.20" width="21.55" height="23.05" fill="#37267f"/>
<rect x="772.43" y="749.20" width="21.55" height="23.05" fill="#35237c"/>
<rect x="793.98" y="749.20" width="21.55" height="23.05" fill="#35227b"/>
<rect x="815.53" y="749.20" width="21.55" height="23.05" fill="#34207a"/>
<rect x="837.08" y="749.20" width="21.55" height="23.05" fill="#331f79"/>
<rect x="858.63" y="749.20" width="21.55" height="23.05" fill="#321e77"/>
<rect x="880.17" y="749.20" width="21.55" height="23.05" fill="#321d76"/>
<rect x="901.72" y="749.20" width="21.55" height="23.05" fill="#311b76"/>
<rect x="923.27" y="749.20" width="21.55" height="23.05" fill="#301a75"/>
<rect x="944.82" y="749.20" width="21.55" height="23.05" fill="#301974"/>
<rect x="966.37" y="749.20" width="21.55" height="23.05" fill="#2f1973"/>
<rect x="987.91" y="749.20" width="21.55" height="23.05" fill="#2f1872"/>
<rect x="1009.46" y="749.20" width="21.55" height="23.05" fill="#2f1872"/>
<rect x="1031.01" y="749.20" width="21.55" height="23.05" fill="#2f1872"/>
<rect x="1052.56" y="749.20" width="21.55" height="23.05" fill="#2f1872"/>
<rect x="1074.11" y="749.20" width="21.55" height="23.05" fill="#2f1872"/>
<rect x="1095.65" y="749.20" width="21.55" height="23.05" fill="#2f1872"/>
<rect x="1117.20" y="749.20" width="21.55" height="23.05" fill="#2f1872"/>
<rect x="1138.75" y="749.20" width="21.55" height="23.05" fill="#2f1872"/>
<rect x="1160.30" y="749.20" width="21.55" height="23.05" fill="#2f1872"/>
<rect x="1181.85" y="749.20" width="21.55" height="23.05" fill="#2f1872"/>
<rect x="1203.39" y="749.20" width="21.55" height="23.05" fill="#2f1872"/>
<rect x="1224.94" y="749.20" width="21.55" height="23.05" fill="#2f1872"/>
<rect x="1246.49" y="749.20" width="21.55" height="23.05" fill="#2f1872"/>
<rect x="1268.04" y="749.20" width="21.55" height="23.05" fill="#2f1872"/>
<rect x="1289.59" y="749.20" width="21.55" height="23.05" fill="#2f1872"/>
<rect x="1311.13" y="749.20" width="21.55" height="23.05" fill="#2f1872"/>
<rect x="1332.68" y="749.20" width="21.55" height="23.05" fill="#2f1872"/>
<rect x="1354.23" y="749.20" width="21.55" height="23.05" fill="#2f1872"/>
<rect x="1375.78" y="749.20" width="21.55" height="23.05" fill="#2f1872"/>
<rect x="1397.33" y="749.20" width="21.55" height="23.05" fill="#2f1872"/>
<rect x="1418.87" y="749.20" width="21.55" height="23.05" fill="#2f1872"/>
<rect x="82.90" y="772.25" width="21.55" height="23.05" fill="#2f1872"/>
<rect x="104.45" y="772.25" width="21.55" height="23.05" fill="#2f1872"/>
<rect x="125.99" y="772.25" width="21.55" height="23.05" fill="#2f1872"/>
<rect x="147.54" y="772.25" width="21.55" height="23.05" fill="#2f1873"/>
<rect x="169.09" y="772.25" width="21.55" height="23.05" fill="#311c76"/>
<rect x="190.64" y="772.25" width="21.55" height="23.05" fill="#34217a"/>
<rect x="212.19" y="772.25" width="21.55" height="23.05" fill="#37267f"/>
<rect x="233.73" y="772.25" width="21.55" height="23.05" fill="#3a2b82"/>
<rect x="255.28" y="772.25" width="21.55" height="23.05" fill="#3f3489"/>
<rect x="276.83" y="772.25" width="21.55" height="23.05" fill="#454295"/>
<rect x="298.38" y="772.25" width="21.55" height="23.05" fill="#494e9f"/>
<rect x="319.93" y="772.25" width="21.55" height="23.05" fill="#4d66b4"/>
<rect x="341.47" y="772.25" width="21.55" height="23.05" fill="#5480c8"/>
<rect x="363.02" y="772.25" width="21.55" height="23.05" fill="#568ec6"/>
<rect x="384.57" y="772.25" width="21.55" height="23.05" fill="#5897bb"/>
<rect x="406.12" y="772.25" width="21.55" height="23.05" fill="#5a9da4"/>
<rect x="427.67" y="772.25" width="21.55" height="23.05" fill="#5ba098"/>
<rect x="449.21" y="772.25" width="21.55" height="23.05" fill="#5ba291"/>
<rect x="470.76" y="772.25" width="21.55" height="23.05" fill="#5ca290"/>
<rect x="492.31" y="772.25" width="21.55" height="23.05" fill="#5ca290"/>
<rect x="513.86" y="772.25" width="21.55" height="23.05" fill="#5ba294"/>
<rect x="535.41" y="772.25" width="21.55" height="23.05" fill="#5b9f9c"/>
<rect x="556.95" y="772.25" width="21.55" height="23.05" fill="#5a9ca8"/>
<rect x="578.50" y="772.25" width="21.55" height="23.05" fill="#5897bb"/>
<rect x="600.05" y="772.25" width="21.55" height="23.05" fill="#568ec6"/>
<rect x="621.60" y="772.25" width="21.55" height="23.05" fill="#5586cb"/>
<rect x="643.15" y="772.25" width="21.55" height="23.05" fill="#5176c1"/>
<rect x="664.69" y="772.25" width="21.55" height="23.05" fill="#4d66b4"/>
<rect x="686.24" y="772.25" width="21.55" height="23.05" fill="#4a58a7"/>
<rect x="707.79" y="772.25" width="21.55" height="23.05" fill="#4950a0"/>
<rect x="729.34" y="772.25" width="21.55" height="23.05" fill="#48499b"/>
<rect x="750.89" y="772.25" width="21.55" height="23.05" fill="#464396"/>
<rect x="772.43" y="772.25" width="21.55" height="23.05" fill="#423a8f"/>
<rect x="793.98" y="772.25" width="21.55" height="23.05" fill="#41368b"/>
<rect x="815.53" y="772.25" width="21.55" height="23.05" fill="#3e3388"/>
<rect x="837.08" y="772.25" width="21.55" height="23.05" fill="#3c2f85"/>
<rect x="858.63" y="772.25" width="21.55" height="23.05" fill="#3a2b83"/>
<rect x="880.17" y="772.25" width="21.55" height="23.05" fill="#382981"/>
<rect x="901.72" y="772.25" width="21.55" height="23.05" fill="#37267e"/>
<rect x="923.27" y="772.25" width="21.55" height="23.05" fill="#35237c"/>
<rect x="944.82" y="772.25" width="21.55" height="23.05" fill="#342079"/>
<rect x="966.37" y="772.25" width="21.55" height="23.05" fill="#321e77"/>
<rect x="987.91" y="772.25" width="21.55" height="23.05" fill="#311c76"/>
<rect x="1009.46" y="772.25" width="21.55" height="23.05" fill="#301a74"/>
<rect x="1031.01" y="772.25" width="21.55" height="23.05" fill="#301973"/>
<rect x="1052.56" y="772.25" width="21.55" height="23.05" fill="#2f1873"/>
<rect x="1074.11" y="772.25" width="21.55" height="23.05" fill="#2f1872"/>
<rect x="1095.65" y="772.25" width="21.55" height="23.05" fill="#2f1872"/>
<rect x="1117.20" y="772.25" width="21.55" height="23.05" fill="#2f1872"/>
<rect x="1138.75" y="772.25" width="21.55" height="23.05" fill="#2f1872"/>
<rect x="1160.30" y="772.25" width="21.55" height="23.05" fill="#2f1872"/>
<rect x="1181.85" y="772.25" width="21.55" height="23.05" fill="#2f1872"/>
<rect x="1203.39" y="772.25" width="21.55" height="23.05" fill="#2f1872"/>
<rect x="1224.94" y="772.25" width="21.55" height="23.05" fill="#2f1872"/>
<rect x="1246.49" y="772.25" width="21.55" height="23.05" fill="#2f1872"/>
<rect x="1268.04" y="772.25" width="21.55" height="23.05" fill="#2f1872"/>
<rect x="1289.59" y="772.25" width="21.55" height="23.05" fill="#2f1872"/>
<rect x="1311.13" y="772.25" width="21.55" height="23.05" fill="#2f1872"/>
<rect x="1332.68" y="772.25" width="21.55" height="23.05" fill="#2f1872"/>
<rect x="1354.23" y="772.25" width="21.55" height="23.05" fill="#2f1872"/>
<rect x="1375.78" y="772.25" width="21.55" height="23.05" fill="#2f1872"/>
<rect x="1397.33" y="772.25" width="21.55" height="23.05" fill="#2f1872"/>
<rect x="1418.87" y="772.25" width="21.55" height="23.05" fill="#2f1872"/>
</g>
<rect x="82.50" y="80.50" width="1358.32" height="715.20" fill="none" stroke="#0c0c14" stroke-width="1.8"/>
<g stroke="#202020" stroke-width="1.1" fill="none">
<line x1="60.9" y1="58.4" x2="1570.4" y2="58.4"/>
<line x1="61.5" y1="58.4" x2="61.5" y2="865.0"/>
<line x1="277.0" y1="58.4" x2="277.0" y2="72.9"/>
<line x1="492.5" y1="58.4" x2="492.5" y2="72.9"/>
<line x1="707.9" y1="58.4" x2="707.9" y2="72.9"/>
<line x1="923.4" y1="58.4" x2="923.4" y2="72.9"/>
<line x1="1138.9" y1="58.4" x2="1138.9" y2="72.9"/>
<line x1="1354.4" y1="58.4" x2="1354.4" y2="72.9"/>
<line x1="1569.9" y1="58.4" x2="1569.9" y2="72.9"/>
<line x1="61.5" y1="173.6" x2="76.0" y2="173.6"/>
<line x1="61.5" y1="288.7" x2="76.0" y2="288.7"/>
<line x1="61.5" y1="403.9" x2="76.0" y2="403.9"/>
<line x1="61.5" y1="519.0" x2="76.0" y2="519.0"/>
<line x1="61.5" y1="634.1" x2="76.0" y2="634.1"/>
<line x1="61.5" y1="749.3" x2="76.0" y2="749.3"/>
<line x1="61.5" y1="864.5" x2="76.0" y2="864.5"/>
</g>
<g font-size="20.8">
<text x="61.0" y="45.3" text-anchor="middle">0</text>
<text x="277.2" y="45.3" text-anchor="middle">10</text>
<text x="492.7" y="45.3" text-anchor="middle">20</text>
<text x="708.1" y="45.3" text-anchor="middle">30</text>
<text x="923.6" y="45.3" text-anchor="middle">40</text>
<text x="1139.1" y="45.3" text-anchor="middle">50</text>
<text x="1354.6" y="45.3" text-anchor="middle">60</text>
<text x="1570.9" y="45.3" text-anchor="middle">70</text>
<text x="53" y="66.0" text-anchor="end">0</text>
<text x="53" y="181.2" text-anchor="end">5</text>
<text x="53" y="296.3" text-anchor="end">10</text>
<text x="53" y="411.5" text-anchor="end">15</text>
<text x="53" y="526.6" text-anchor="end">20</text>
<text x="53" y="641.8" text-anchor="end">25</text>
<text x="53" y="756.9" text-anchor="end">30</text>
<text x="53" y="872.1" text-anchor="end">35</text>
</g>
 <text x="816.4" y="16.6" font-size="22.5" text-anchor="middle">Scales</text>
<text transform="translate(17.1,461.4) rotate(-90)" font-size="22.5" text-anchor="middle">Channels</text>
<rect x="1627.4" y="851.40" width="31.6" height="13.60" fill="#2f1872"/>
<rect x="1627.4" y="838.80" width="31.6" height="13.60" fill="#311b75"/>
<rect x="1627.4" y="826.20" width="31.6" height="13.60" fill="#331f78"/>
<rect x="1627.4" y="813.59" width="31.6" height="13.60" fill="#35227b"/>
<rect x="1627.4" y="800.99" width="31.6" height="13.60" fill="#37267e"/>
<rect x="1627.4" y="788.39" width="31.6" height="13.60" fill="#392981"/>
<rect x="1627.4" y="775.79" width="31.6" height="13.60" fill="#3b2c83"/>
<rect x="1627.4" y="763.19" width="31.6" height="13.60" fill="#3c2f86"/>
<rect x="1627.4" y="750.59" width="31.6" height="13.60" fill="#3e3288"/>
<rect x="1627.4" y="737.98" width="31.6" height="13.60" fill="#40368a"/>
<rect x="1627.4" y="725.38" width="31.6" height="13.60" fill="#42398d"/>
<rect x="1627.4" y="712.78" width="31.6" height="13.60" fill="#433d91"/>
<rect x="1627.4" y="700.18" width="31.6" height="13.60" fill="#454094"/>
<rect x="1627.4" y="687.58" width="31.6" height="13.60" fill="#464497"/>
<rect x="1627.4" y="674.98" width="31.6" height="13.60" fill="#48489a"/>
<rect x="1627.4" y="662.38" width="31.6" height="13.60" fill="#484c9d"/>
<rect x="1627.4" y="649.77" width="31.6" height="13.60" fill="#4951a1"/>
<rect x="1627.4" y="637.17" width="31.6" height="13.60" fill="#4956a5"/>
<rect x="1627.4" y="624.57" width="31.6" height="13.60" fill="#4a5ba9"/>
<rect x="1627.4" y="611.97" width="31.6" height="13.60" fill="#4c62b0"/>
<rect x="1627.4" y="599.37" width="31.6" height="13.60" fill="#4e6bb8"/>
<rect x="1627.4" y="586.77" width="31.6" height="13.60" fill="#5173bf"/>
<rect x="1627.4" y="574.16" width="31.6" height="13.60" fill="#5279c3"/>
<rect x="1627.4" y="561.56" width="31.6" height="13.60" fill="#5480c8"/>
<rect x="1627.4" y="548.96" width="31.6" height="13.60" fill="#5586cb"/>
<rect x="1627.4" y="536.36" width="31.6" height="13.60" fill="#568ac8"/>
<rect x="1627.4" y="523.76" width="31.6" height="13.60" fill="#568ec6"/>
<rect x="1627.4" y="511.16" width="31.6" height="13.60" fill="#5792c4"/>
<rect x="1627.4" y="498.55" width="31.6" height="13.60" fill="#5796c0"/>
<rect x="1627.4" y="485.95" width="31.6" height="13.60" fill="#5998b6"/>
<rect x="1627.4" y="473.35" width="31.6" height="13.60" fill="#5a9bac"/>
<rect x="1627.4" y="460.75" width="31.6" height="13.60" fill="#5a9da4"/>
<rect x="1627.4" y="448.15" width="31.6" height="13.60" fill="#5b9f9c"/>
<rect x="1627.4" y="435.55" width="31.6" height="13.60" fill="#5ba194"/>
<rect x="1627.4" y="422.95" width="31.6" height="13.60" fill="#5ea38b"/>
<rect x="1627.4" y="410.34" width="31.6" height="13.60" fill="#62a582"/>
<rect x="1627.4" y="397.74" width="31.6" height="13.60" fill="#66a679"/>
<rect x="1627.4" y="385.14" width="31.6" height="13.60" fill="#6aa870"/>
<rect x="1627.4" y="372.54" width="31.6" height="13.60" fill="#6faa67"/>
<rect x="1627.4" y="359.94" width="31.6" height="13.60" fill="#74ac5e"/>
<rect x="1627.4" y="347.34" width="31.6" height="13.60" fill="#7bae55"/>
<rect x="1627.4" y="334.73" width="31.6" height="13.60" fill="#85b24d"/>
<rect x="1627.4" y="322.13" width="31.6" height="13.60" fill="#8eb544"/>
<rect x="1627.4" y="309.53" width="31.6" height="13.60" fill="#97b83d"/>
<rect x="1627.4" y="296.93" width="31.6" height="13.60" fill="#a0b738"/>
<rect x="1627.4" y="284.33" width="31.6" height="13.60" fill="#a8b633"/>
<rect x="1627.4" y="271.73" width="31.6" height="13.60" fill="#b0b62e"/>
<rect x="1627.4" y="259.12" width="31.6" height="13.60" fill="#b8b42b"/>
<rect x="1627.4" y="246.52" width="31.6" height="13.60" fill="#bfb22a"/>
<rect x="1627.4" y="233.92" width="31.6" height="13.60" fill="#c7b02a"/>
<rect x="1627.4" y="221.32" width="31.6" height="13.60" fill="#ccb02e"/>
<rect x="1627.4" y="208.72" width="31.6" height="13.60" fill="#d1b033"/>
<rect x="1627.4" y="196.12" width="31.6" height="13.60" fill="#d6b038"/>
<rect x="1627.4" y="183.52" width="31.6" height="13.60" fill="#d9b338"/>
<rect x="1627.4" y="170.91" width="31.6" height="13.60" fill="#dbb736"/>
<rect x="1627.4" y="158.31" width="31.6" height="13.60" fill="#ddbb33"/>
<rect x="1627.4" y="145.71" width="31.6" height="13.60" fill="#dfbf30"/>
<rect x="1627.4" y="133.11" width="31.6" height="13.60" fill="#e0c430"/>
<rect x="1627.4" y="120.51" width="31.6" height="13.60" fill="#e1ca31"/>
<rect x="1627.4" y="107.91" width="31.6" height="13.60" fill="#e2d031"/>
<rect x="1627.4" y="95.30" width="31.6" height="13.60" fill="#e3d532"/>
<rect x="1627.4" y="82.70" width="31.6" height="13.60" fill="#e4da33"/>
<rect x="1627.4" y="70.10" width="31.6" height="13.60" fill="#e6de34"/>
<rect x="1627.4" y="57.50" width="31.6" height="13.60" fill="#e7e335"/>
<rect x="1627.4" y="58.0" width="31.6" height="806.5" fill="none" stroke="#1c1c1c" stroke-width="1.1"/>
<g stroke="#262626" stroke-width="1.2">
<line x1="1650" y1="747.1" x2="1659" y2="747.1"/>
<line x1="1650" y1="628.0" x2="1659" y2="628.0"/>
<line x1="1650" y1="508.9" x2="1659" y2="508.9"/>
<line x1="1650" y1="389.7" x2="1659" y2="389.7"/>
<line x1="1650" y1="270.6" x2="1659" y2="270.6"/>
<line x1="1650" y1="151.4" x2="1659" y2="151.4"/>
</g><g font-size="18.3">
<text x="1667" y="754.4">0.5</text>
<text x="1667" y="635.2">1</text>
<text x="1667" y="516.1">1.5</text>
<text x="1667" y="396.9">2</text>
<text x="1667" y="277.8">2.5</text>
<text x="1667" y="158.6">3</text>
<text x="1659.3" y="50" font-size="23">×</text><text x="1674.5" y="47.2">10</text><text x="1695.3" y="38.4" font-size="14.2">10</text>
</g>
<rect x="295.1" y="52.3" width="3.9" height="866" fill="#0a0a0a"/>
<rect x="704.1" y="52.3" width="3.8" height="866" fill="#0a0a0a"/>
<rect x="487" y="52.2" width="6" height="762" fill="#961b20"/>
<polygon points="482,812 498,812 490,827" fill="#8c1a1f"/>
<text x="498.3" y="854.3" font-size="25" font-weight="bold" text-anchor="middle" style="fill:#b81c22" textLength="138.5" lengthAdjust="spacingAndGlyphs">Mean Scale</text>
<text x="489.6" y="902.6" font-size="25" font-weight="bold" text-anchor="middle" style="fill:#0a0a0a" textLength="180" lengthAdjust="spacingAndGlyphs">Selected Scales</text>
<g fill="#0a0a0a"><rect x="305" y="892.1" width="79.8" height="2.8"/><polygon points="298.8,893.5 307.8,888.1 307.8,898.9"/>
<rect x="595" y="892.1" width="102" height="2.8"/><polygon points="704.3,893.5 695.1,888.1 695.1,898.9"/></g>
</svg></body></html>
